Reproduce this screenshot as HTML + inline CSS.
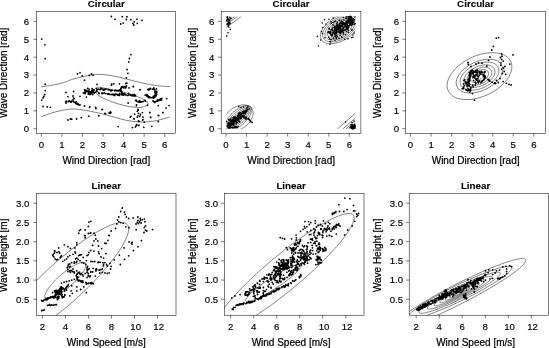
<!DOCTYPE html>
<html><head><meta charset="utf-8"><title>Circular and linear contour plots</title>
<style>
html,body{margin:0;padding:0;background:#fff;}
svg{display:block;}
</style></head><body>
<svg width="549" height="348" viewBox="0 0 549 348">
<rect width="549" height="348" fill="#fff"/>
<clipPath id="c0"><rect x="36.7" y="11.6" width="139.00" height="121.90"/></clipPath>
<g clip-path="url(#c0)" fill="none" stroke="#000" stroke-width="0.5">
<path d="M41.1,86.9 C43.4,86.5 51.1,85.4 55.1,84.6 C59.1,83.8 62.1,83.0 65.3,82.0 C68.5,81.0 70.7,79.7 74.3,78.7 C77.9,77.7 83.6,76.6 87.0,75.9 C90.4,75.2 91.5,74.6 94.7,74.4 C97.9,74.2 102.0,74.5 106.0,74.9 C110.0,75.3 114.5,76.1 118.8,77.0 C123.0,77.9 127.2,79.3 131.5,80.4 C135.8,81.5 140.1,82.5 144.3,83.4 C148.6,84.3 152.7,85.2 157.0,85.7 C161.3,86.2 168.2,86.5 170.4,86.7"/>
<path d="M41.1,116.7 C43.4,115.9 50.4,113.2 55.1,112.0 C59.8,110.8 65.2,109.6 69.2,109.2 C73.2,108.8 75.6,109.0 79.4,109.4 C83.2,109.8 87.7,110.7 92.1,111.6 C96.5,112.5 100.5,113.5 106.0,114.9 C111.5,116.3 119.6,118.8 125.2,120.0 C130.8,121.2 134.8,121.7 139.7,121.9 C144.5,122.1 149.3,121.8 154.3,121.0 C159.3,120.2 167.1,117.8 169.6,117.1"/>
<path d="M96.2,90.5 C96.3,89.4 96.0,87.7 97.5,87.3 C99.0,86.9 101.6,87.7 105.0,88.3 C108.4,88.9 114.2,90.0 118.0,90.9 C121.8,91.8 124.8,92.5 128.0,93.5 C131.2,94.5 134.4,95.6 137.0,96.6 C139.6,97.5 141.8,98.3 143.5,99.2 C145.2,100.1 146.5,100.8 147.2,101.7 C147.9,102.6 148.3,103.6 147.7,104.4 C147.1,105.2 145.2,106.3 143.4,106.8 C141.6,107.3 140.2,107.6 137.0,107.4 C133.8,107.2 128.6,106.5 124.3,105.5 C120.0,104.5 115.3,103.1 111.5,101.7 C107.7,100.3 103.7,98.5 101.3,97.2 C98.9,95.9 97.8,95.1 97.0,94.0 C96.2,92.9 96.1,91.6 96.2,90.5Z"/>
</g>
<g clip-path="url(#c0)" fill="none" stroke="#000" stroke-linecap="round" stroke-width="1.8">
<path d="M111.4,16.5h0M114.9,19.3h0M122.3,16.7h0M127.0,16.7h0M126.4,19.5h0M130.9,19.7h0M137.0,19.3h0M142.0,20.3h0M123.2,23.1h0M120.7,24.0h0M134.3,21.8h0M132.8,23.4h0M137.3,23.4h0M133.8,25.0h0M41.7,39.1h0M44.9,44.8h0M45.2,58.7h0M45.2,84.2h0M45.2,90.6h0M44.7,94.5h0M43.9,96.4h0M43.0,97.9h0M41.7,100.1h0M43.0,106.5h0M47.2,106.9h0M50.3,107.3h0M130.9,54.6h0M129.3,58.5h0M128.7,61.9h0M127.0,69.5h0M127.9,73.3h0M126.4,77.8h0M125.8,83.4h0M77.5,73.9h0M80.0,72.7h0M82.2,75.9h0M84.5,80.2h0M89.3,75.5h0M91.5,74.0h0M93.1,75.3h0M97.0,84.4h0M66.0,92.4h0M73.6,91.5h0M67.9,96.7h0M73.0,96.0h0M73.6,97.9h0M80.0,96.3h0M86.4,97.1h0M111.7,84.2h0M113.7,83.8h0M119.4,83.8h0M133.4,86.7h0M129.0,87.9h0M139.8,89.8h0M156.4,88.9h0M66.6,101.1h0M69.2,100.9h0M71.7,101.1h0M73.6,101.8h0M75.5,103.0h0M78.1,103.9h0M80.0,105.0h0M66.0,103.0h0M73.0,99.9h0M74.3,98.6h0M84.5,106.0h0M89.6,107.3h0M96.0,108.5h0M102.3,109.4h0M104.9,113.3h0M67.9,120.0h0M70.4,119.0h0M71.7,119.2h0M76.6,119.0h0M81.3,117.7h0M88.9,116.2h0M98.8,115.8h0M126.4,85.8h0M111.5,85.1h0M126.8,83.2h0M133.2,86.4h0M140.2,89.6h0M128.1,103.0h0M136.4,105.5h0M89.8,106.8h0M95.6,107.4h0M101.9,109.6h0M138.3,110.0h0M158.3,105.6h0M169.1,105.6h0M166.0,108.1h0M162.8,112.6h0M150.0,112.4h0M158.3,115.4h0M150.6,117.1h0M158.3,121.5h0M147.5,105.2h0M136.6,105.0h0M137.9,109.4h0M137.3,111.3h0M138.5,113.3h0M137.9,115.8h0M139.8,116.4h0M137.3,117.1h0M142.4,112.6h0M140.4,114.5h0M143.0,117.1h0M143.0,119.6h0M138.5,120.9h0M144.3,122.2h0M134.1,119.0h0M130.9,116.4h0M136.6,124.7h0M138.5,125.4h0M98.9,115.6h0M105.5,113.7h0M134.6,114.2h0M130.3,117.1h0M133.9,118.6h0M142.6,120.0h0M139.0,121.5h0M150.7,117.5h0M158.7,115.6h0M163.0,112.7h0M149.9,112.7h0M118.2,126.6h0M132.4,127.6h0M136.1,125.8h0M139.0,125.1h0M135.4,126.9h0M143.8,127.3h0M151.8,126.3h0M166.6,98.6h0M68.6,101.5h0M76.1,101.8h0M66.5,102.0h0M77.7,104.2h0M78.5,104.4h0M74.6,102.3h0M76.5,103.9h0M71.1,102.2h0M65.6,101.6h0M78.3,104.8h0M73.4,101.7h0M77.2,103.4h0M66.8,101.8h0M70.3,101.5h0M90.9,93.7h0M85.1,93.6h0M89.2,89.5h0M89.4,91.6h0M93.4,89.8h0M90.7,91.7h0M84.6,89.6h0M91.9,92.6h0M93.5,92.4h0M91.3,91.7h0M93.9,90.2h0M89.5,92.1h0M85.0,93.6h0M87.5,91.4h0M96.9,90.2h0M88.3,94.0h0M86.5,90.8h0M91.7,92.2h0M91.9,92.1h0M94.3,93.1h0M91.9,90.4h0M87.7,88.4h0M92.2,88.6h0M92.8,94.5h0M86.6,90.4h0M88.5,92.8h0M87.2,91.3h0M88.3,91.1h0M94.1,90.0h0M90.2,91.9h0M92.7,89.5h0M93.6,92.2h0M92.8,91.6h0M84.8,90.5h0M92.6,91.6h0M89.8,94.4h0M97.0,91.4h0M96.2,88.3h0M83.4,92.9h0M89.2,92.4h0M91.7,91.4h0M92.2,91.7h0M85.1,91.9h0M90.6,94.4h0M86.4,91.5h0M88.6,91.3h0M95.3,92.1h0M88.5,91.7h0M92.5,89.9h0M89.2,94.0h0M92.7,91.4h0M88.5,91.3h0M85.0,93.0h0M91.1,91.7h0M85.8,90.4h0M98.1,89.1h0M118.1,90.9h0M100.7,89.5h0M103.3,90.0h0M114.4,90.8h0M103.8,89.4h0M99.1,89.4h0M110.9,90.9h0M118.6,90.7h0M104.9,89.5h0M115.8,90.2h0M117.6,90.7h0M111.8,90.1h0M102.0,88.7h0M108.2,89.5h0M112.2,90.3h0M106.0,88.9h0M97.2,89.6h0M119.3,90.0h0M109.9,90.0h0M104.0,90.1h0M104.3,89.2h0M116.2,90.6h0M115.0,90.4h0M108.9,89.8h0M100.8,88.5h0M116.6,94.1h0M108.8,94.2h0M114.7,95.6h0M105.9,93.6h0M119.6,94.3h0M112.6,94.5h0M104.3,92.6h0M117.6,95.0h0M99.1,93.5h0M102.0,93.6h0M109.7,94.3h0M108.2,93.6h0M98.8,92.9h0M118.7,95.2h0M114.1,95.2h0M113.2,94.3h0M107.7,94.1h0M112.5,94.4h0M104.3,92.9h0M115.4,94.2h0M102.7,93.4h0M111.2,94.5h0M119.5,93.5h0M119.5,95.4h0M115.1,94.2h0M102.0,93.0h0M120.8,90.7h0M121.6,93.5h0M122.5,94.7h0M120.8,89.1h0M121.5,93.1h0M121.3,87.3h0M121.6,87.4h0M121.3,88.6h0M120.6,90.0h0M122.2,93.2h0M122.6,93.9h0M122.7,94.5h0M121.8,92.0h0M122.0,86.6h0M120.3,90.0h0M120.9,88.7h0M123.1,93.5h0M120.6,90.5h0M121.3,90.6h0M121.1,91.5h0M124.1,86.6h0M125.7,87.4h0M125.9,87.6h0M122.9,87.1h0M126.0,86.6h0M123.7,87.8h0M125.5,87.9h0M131.4,95.4h0M128.2,95.1h0M121.5,94.7h0M125.0,94.2h0M129.9,94.8h0M123.4,95.2h0M128.1,95.1h0M131.5,95.7h0M134.1,95.8h0M122.5,94.1h0M126.1,94.9h0M125.6,94.7h0M124.6,93.9h0M132.2,95.6h0M134.2,95.4h0M125.3,94.8h0M123.8,94.5h0M133.6,95.7h0M122.7,94.9h0M130.6,95.2h0M122.9,94.8h0M132.6,94.9h0M127.8,95.4h0M128.6,93.3h0M135.5,95.3h0M134.3,94.5h0M133.3,95.8h0M134.1,95.7h0M135.4,95.8h0M132.6,94.8h0M136.3,100.5h0M145.0,100.3h0M135.6,100.3h0M145.4,101.1h0M139.8,102.0h0M138.1,101.9h0M138.4,101.4h0M139.3,102.0h0M139.8,100.8h0M143.4,101.4h0M136.1,100.5h0M142.1,101.7h0M140.9,102.0h0M136.4,101.0h0M152.6,89.1h0M146.8,95.5h0M154.7,96.7h0M153.1,96.8h0M149.9,97.5h0M155.6,94.0h0M154.5,89.7h0M155.2,91.2h0M153.1,97.2h0M155.9,91.3h0M154.8,92.3h0M149.0,89.1h0M147.5,95.6h0M149.0,89.9h0M153.8,87.9h0M149.5,97.0h0M147.9,89.5h0M147.8,96.1h0M153.2,96.4h0M153.7,96.8h0M153.6,89.3h0M156.3,93.2h0M153.7,89.4h0M153.1,89.1h0M151.5,97.7h0M148.9,97.7h0M150.4,88.5h0M156.4,95.0h0M146.9,94.6h0M150.5,88.9h0M156.1,92.9h0M155.9,95.5h0M154.6,95.5h0M155.3,96.0h0M156.5,94.4h0M156.7,91.5h0M155.7,96.5h0M155.3,93.9h0M153.4,98.2h0M156.7,92.8h0M155.6,96.2h0M154.5,97.4h0M155.4,95.7h0M154.4,96.3h0M155.3,95.5h0M155.8,92.4h0M148.2,96.4h0M147.3,96.5h0M146.6,95.7h0M149.8,97.1h0M145.3,95.2h0M146.3,94.8h0M147.8,95.7h0M148.7,97.4h0M148.6,97.6h0M161.2,99.4h0M160.8,100.2h0M160.3,100.1h0M159.1,100.4h0M161.9,98.5h0M161.6,99.4h0M157.3,101.2h0M158.7,100.4h0M154.8,102.4h0M161.0,99.5h0M157.6,100.0h0M155.6,101.6h0M153.9,101.7h0M157.1,100.5h0M153.0,100.9h0M161.1,100.1h0M160.1,99.2h0M161.0,99.0h0M109.1,113.0h0M110.4,113.2h0M110.2,113.0h0M110.0,113.3h0M109.7,113.2h0M110.2,113.0h0M110.9,112.6h0M110.4,111.8h0"/>
</g>
<g fill="none" stroke="#000" stroke-width="0.52">
<rect x="36.7" y="11.6" width="139.00" height="121.90"/>
<path d="M41.40,133.5v3.3M61.95,133.5v3.3M82.50,133.5v3.3M103.05,133.5v3.3M123.60,133.5v3.3M144.15,133.5v3.3M164.70,133.5v3.3M36.7,128.75h-3.4M36.7,110.85h-3.4M36.7,92.95h-3.4M36.7,75.05h-3.4M36.7,57.15h-3.4M36.7,39.25h-3.4M36.7,21.35h-3.4"/>
</g>
<g font-family='"Liberation Sans", Arial, Helvetica, sans-serif' font-size="10px" fill="#000" stroke="#000" stroke-width="0.22">
<text x="41.40" y="147.9" text-anchor="middle" font-size="9.6px" stroke-width="0.16">0</text>
<text x="61.95" y="147.9" text-anchor="middle" font-size="9.6px" stroke-width="0.16">1</text>
<text x="82.50" y="147.9" text-anchor="middle" font-size="9.6px" stroke-width="0.16">2</text>
<text x="103.05" y="147.9" text-anchor="middle" font-size="9.6px" stroke-width="0.16">3</text>
<text x="123.60" y="147.9" text-anchor="middle" font-size="9.6px" stroke-width="0.16">4</text>
<text x="144.15" y="147.9" text-anchor="middle" font-size="9.6px" stroke-width="0.16">5</text>
<text x="164.70" y="147.9" text-anchor="middle" font-size="9.6px" stroke-width="0.16">6</text>
<text x="29.2" y="132.15" text-anchor="end" font-size="9.6px" stroke-width="0.16">0</text>
<text x="29.2" y="114.25" text-anchor="end" font-size="9.6px" stroke-width="0.16">1</text>
<text x="29.2" y="96.35" text-anchor="end" font-size="9.6px" stroke-width="0.16">2</text>
<text x="29.2" y="78.45" text-anchor="end" font-size="9.6px" stroke-width="0.16">3</text>
<text x="29.2" y="60.55" text-anchor="end" font-size="9.6px" stroke-width="0.16">4</text>
<text x="29.2" y="42.65" text-anchor="end" font-size="9.6px" stroke-width="0.16">5</text>
<text x="29.2" y="24.75" text-anchor="end" font-size="9.6px" stroke-width="0.16">6</text>
<text x="106.3" y="163.8" text-anchor="middle">Wind Direction [rad]</text>
<text transform="translate(6.9,72.8) rotate(-90)" text-anchor="middle">Wave Direction [rad]</text>
<text x="106.3" y="6.8" text-anchor="middle" font-weight="bold" font-size="9.8px" stroke-width="0.1">Circular</text>
</g>
<clipPath id="c1"><rect x="221.2" y="11.5" width="139.70" height="121.80"/></clipPath>
<clipPath id="d1"><rect x="226.3" y="16.4" width="129.10" height="112.60"/></clipPath>
<g clip-path="url(#d1)" fill="none" stroke="#000" stroke-width="0.5">
<path d="M358.2,17.5 L358.5,18.1 L358.8,18.7 L359.0,19.3 L359.1,19.9 L359.2,20.6 L359.2,21.2 L359.2,21.9 L359.1,22.7 L359.0,23.4 L358.9,24.2 L358.6,24.9 L358.3,25.7 L358.0,26.5 L357.6,27.3 L357.2,28.0 L356.7,28.8 L356.2,29.6 L355.6,30.4 L355.0,31.2 L354.4,32.0 L353.7,32.7 L352.9,33.5 L352.2,34.2 L351.4,35.0 L350.5,35.7 L349.7,36.4 L348.8,37.0 L347.9,37.7 L346.9,38.3 L346.0,38.9 L345.0,39.5 L344.0,40.0 L343.0,40.5 L342.0,41.0 L341.0,41.4 L340.0,41.8 L339.0,42.2 L338.0,42.5 L336.9,42.8 L335.9,43.0 L334.9,43.3 L334.0,43.4 L333.0,43.6 L332.1,43.7 L331.1,43.7 L330.2,43.7 L329.4,43.7 L328.5,43.6 L327.7,43.5 L326.9,43.3 L326.2,43.1 L325.5,42.9 L324.8,42.6 L324.2,42.3 L323.6,42.0 L323.1,41.6 L322.6,41.1 L322.1,40.7 L321.7,40.2 L321.4,39.7 L321.1,39.1 L320.8,38.5 L320.6,37.9 L320.5,37.3 L320.4,36.6 L320.4,36.0 L320.4,35.3 L320.5,34.5 L320.6,33.8 L320.7,33.0 L321.0,32.3 L321.3,31.5 L321.6,30.7 L322.0,29.9 L322.4,29.2 L322.9,28.4 L323.4,27.6 L324.0,26.8 L324.6,26.0 L325.2,25.2 L325.9,24.5 L326.7,23.7 L327.4,23.0 L328.2,22.2 L329.1,21.5 L329.9,20.8 L330.8,20.2 L331.7,19.5 L332.7,18.9 L333.6,18.3 L334.6,17.7 L335.6,17.2 L336.6,16.7 L337.6,16.2 L338.6,15.8 L339.6,15.4 L340.6,15.0 L341.6,14.7 L342.7,14.4 L343.7,14.2 L344.7,13.9 L345.6,13.8 L346.6,13.6 L347.5,13.5 L348.5,13.5 L349.4,13.5 L350.2,13.5 L351.1,13.6 L351.9,13.7 L352.7,13.9 L353.4,14.1 L354.1,14.3 L354.8,14.6 L355.4,14.9 L356.0,15.2 L356.5,15.6 L357.0,16.1 L357.5,16.5 L357.9,17.0Z"/>
<path d="M356.0,18.9 L356.3,19.3 L356.5,19.9 L356.7,20.4 L356.8,21.0 L356.9,21.5 L356.9,22.1 L356.9,22.7 L356.8,23.4 L356.7,24.0 L356.6,24.7 L356.4,25.4 L356.1,26.0 L355.8,26.7 L355.5,27.4 L355.1,28.1 L354.7,28.8 L354.2,29.5 L353.7,30.2 L353.2,30.9 L352.6,31.6 L352.0,32.2 L351.4,32.9 L350.7,33.6 L350.0,34.2 L349.3,34.8 L348.5,35.4 L347.7,36.0 L346.9,36.6 L346.1,37.1 L345.2,37.7 L344.4,38.1 L343.5,38.6 L342.6,39.1 L341.7,39.5 L340.9,39.9 L340.0,40.2 L339.1,40.5 L338.2,40.8 L337.3,41.1 L336.4,41.3 L335.5,41.5 L334.7,41.7 L333.8,41.8 L333.0,41.8 L332.2,41.9 L331.4,41.9 L330.6,41.9 L329.9,41.8 L329.2,41.7 L328.5,41.6 L327.8,41.4 L327.2,41.2 L326.6,40.9 L326.1,40.7 L325.5,40.4 L325.1,40.0 L324.6,39.6 L324.2,39.2 L323.9,38.8 L323.6,38.3 L323.3,37.9 L323.1,37.3 L322.9,36.8 L322.8,36.2 L322.7,35.7 L322.7,35.1 L322.7,34.5 L322.8,33.8 L322.9,33.2 L323.0,32.5 L323.2,31.8 L323.5,31.2 L323.8,30.5 L324.1,29.8 L324.5,29.1 L324.9,28.4 L325.4,27.7 L325.9,27.0 L326.4,26.3 L327.0,25.6 L327.6,25.0 L328.2,24.3 L328.9,23.6 L329.6,23.0 L330.3,22.4 L331.1,21.8 L331.9,21.2 L332.7,20.6 L333.5,20.1 L334.4,19.5 L335.2,19.1 L336.1,18.6 L337.0,18.1 L337.9,17.7 L338.7,17.3 L339.6,17.0 L340.5,16.7 L341.4,16.4 L342.3,16.1 L343.2,15.9 L344.1,15.7 L344.9,15.5 L345.8,15.4 L346.6,15.4 L347.4,15.3 L348.2,15.3 L349.0,15.3 L349.7,15.4 L350.4,15.5 L351.1,15.6 L351.8,15.8 L352.4,16.0 L353.0,16.3 L353.5,16.5 L354.1,16.8 L354.5,17.2 L355.0,17.6 L355.4,18.0 L355.7,18.4Z"/>
<path d="M353.8,20.2 L354.0,20.6 L354.2,21.0 L354.4,21.5 L354.5,22.0 L354.5,22.5 L354.6,23.0 L354.6,23.5 L354.5,24.1 L354.4,24.7 L354.3,25.2 L354.1,25.8 L353.9,26.4 L353.6,27.0 L353.4,27.6 L353.0,28.2 L352.7,28.8 L352.3,29.4 L351.8,30.0 L351.4,30.6 L350.9,31.2 L350.3,31.7 L349.8,32.3 L349.2,32.9 L348.6,33.4 L348.0,34.0 L347.3,34.5 L346.6,35.0 L345.9,35.5 L345.2,36.0 L344.5,36.4 L343.8,36.8 L343.0,37.3 L342.2,37.6 L341.5,38.0 L340.7,38.3 L339.9,38.6 L339.2,38.9 L338.4,39.2 L337.6,39.4 L336.9,39.6 L336.1,39.7 L335.4,39.9 L334.6,40.0 L333.9,40.0 L333.2,40.1 L332.5,40.1 L331.9,40.1 L331.2,40.0 L330.6,39.9 L330.0,39.8 L329.5,39.6 L328.9,39.5 L328.4,39.3 L327.9,39.0 L327.5,38.8 L327.1,38.5 L326.7,38.1 L326.4,37.8 L326.1,37.4 L325.8,37.0 L325.6,36.6 L325.4,36.2 L325.2,35.7 L325.1,35.2 L325.1,34.7 L325.0,34.2 L325.0,33.7 L325.1,33.1 L325.2,32.5 L325.3,32.0 L325.5,31.4 L325.7,30.8 L326.0,30.2 L326.2,29.6 L326.6,29.0 L326.9,28.4 L327.3,27.8 L327.8,27.2 L328.2,26.6 L328.7,26.0 L329.3,25.5 L329.8,24.9 L330.4,24.3 L331.0,23.8 L331.6,23.2 L332.3,22.7 L333.0,22.2 L333.7,21.7 L334.4,21.2 L335.1,20.8 L335.8,20.4 L336.6,19.9 L337.4,19.6 L338.1,19.2 L338.9,18.9 L339.7,18.6 L340.4,18.3 L341.2,18.0 L342.0,17.8 L342.7,17.6 L343.5,17.5 L344.2,17.3 L345.0,17.2 L345.7,17.2 L346.4,17.1 L347.1,17.1 L347.7,17.1 L348.4,17.2 L349.0,17.3 L349.6,17.4 L350.1,17.6 L350.7,17.7 L351.2,17.9 L351.7,18.2 L352.1,18.4 L352.5,18.7 L352.9,19.1 L353.2,19.4 L353.5,19.8Z"/>
<path d="M351.6,21.5 L351.8,21.9 L351.9,22.2 L352.1,22.6 L352.2,23.0 L352.2,23.5 L352.2,23.9 L352.2,24.3 L352.2,24.8 L352.1,25.3 L352.0,25.8 L351.8,26.2 L351.7,26.7 L351.5,27.2 L351.2,27.7 L350.9,28.2 L350.6,28.8 L350.3,29.3 L349.9,29.8 L349.5,30.3 L349.1,30.8 L348.7,31.2 L348.2,31.7 L347.7,32.2 L347.2,32.7 L346.7,33.1 L346.1,33.6 L345.6,34.0 L345.0,34.4 L344.4,34.8 L343.8,35.2 L343.1,35.5 L342.5,35.9 L341.9,36.2 L341.2,36.5 L340.6,36.8 L339.9,37.1 L339.3,37.3 L338.6,37.5 L338.0,37.7 L337.3,37.8 L336.7,38.0 L336.1,38.1 L335.5,38.2 L334.8,38.2 L334.3,38.3 L333.7,38.3 L333.1,38.3 L332.6,38.2 L332.1,38.1 L331.6,38.0 L331.1,37.9 L330.6,37.8 L330.2,37.6 L329.8,37.4 L329.4,37.1 L329.1,36.9 L328.8,36.6 L328.5,36.3 L328.2,36.0 L328.0,35.7 L327.8,35.3 L327.7,35.0 L327.5,34.6 L327.4,34.2 L327.4,33.7 L327.4,33.3 L327.4,32.9 L327.4,32.4 L327.5,31.9 L327.6,31.4 L327.8,31.0 L327.9,30.5 L328.1,30.0 L328.4,29.5 L328.7,29.0 L329.0,28.4 L329.3,27.9 L329.7,27.4 L330.1,26.9 L330.5,26.4 L330.9,26.0 L331.4,25.5 L331.9,25.0 L332.4,24.5 L332.9,24.1 L333.5,23.6 L334.0,23.2 L334.6,22.8 L335.2,22.4 L335.8,22.0 L336.5,21.7 L337.1,21.3 L337.7,21.0 L338.4,20.7 L339.0,20.4 L339.7,20.1 L340.3,19.9 L341.0,19.7 L341.6,19.5 L342.3,19.4 L342.9,19.2 L343.5,19.1 L344.1,19.0 L344.8,19.0 L345.3,18.9 L345.9,18.9 L346.5,18.9 L347.0,19.0 L347.5,19.1 L348.0,19.2 L348.5,19.3 L349.0,19.4 L349.4,19.6 L349.8,19.8 L350.2,20.1 L350.5,20.3 L350.8,20.6 L351.1,20.9 L351.4,21.2Z"/>
<path d="M349.4,22.8 L349.5,23.1 L349.7,23.4 L349.8,23.7 L349.8,24.1 L349.9,24.4 L349.9,24.8 L349.9,25.1 L349.9,25.5 L349.8,25.9 L349.7,26.3 L349.6,26.7 L349.4,27.1 L349.3,27.5 L349.1,27.9 L348.8,28.3 L348.6,28.7 L348.3,29.1 L348.0,29.5 L347.7,29.9 L347.4,30.4 L347.0,30.8 L346.6,31.1 L346.2,31.5 L345.8,31.9 L345.4,32.3 L344.9,32.6 L344.5,33.0 L344.0,33.3 L343.5,33.6 L343.0,33.9 L342.5,34.2 L342.0,34.5 L341.5,34.8 L341.0,35.0 L340.4,35.3 L339.9,35.5 L339.4,35.7 L338.8,35.8 L338.3,36.0 L337.8,36.1 L337.3,36.2 L336.8,36.3 L336.3,36.4 L335.8,36.4 L335.3,36.5 L334.8,36.5 L334.4,36.4 L333.9,36.4 L333.5,36.3 L333.1,36.3 L332.7,36.2 L332.4,36.0 L332.0,35.9 L331.7,35.7 L331.4,35.5 L331.1,35.3 L330.8,35.1 L330.6,34.9 L330.4,34.6 L330.2,34.4 L330.1,34.1 L329.9,33.8 L329.8,33.5 L329.8,33.1 L329.7,32.8 L329.7,32.4 L329.7,32.1 L329.7,31.7 L329.8,31.3 L329.9,30.9 L330.0,30.5 L330.2,30.1 L330.3,29.7 L330.5,29.3 L330.8,28.9 L331.0,28.5 L331.3,28.1 L331.6,27.7 L331.9,27.3 L332.2,26.8 L332.6,26.4 L333.0,26.1 L333.4,25.7 L333.8,25.3 L334.2,24.9 L334.7,24.6 L335.1,24.2 L335.6,23.9 L336.1,23.6 L336.6,23.3 L337.1,23.0 L337.6,22.7 L338.1,22.4 L338.6,22.2 L339.2,21.9 L339.7,21.7 L340.2,21.5 L340.8,21.4 L341.3,21.2 L341.8,21.1 L342.3,21.0 L342.8,20.9 L343.3,20.8 L343.8,20.8 L344.3,20.7 L344.8,20.7 L345.2,20.8 L345.7,20.8 L346.1,20.9 L346.5,20.9 L346.9,21.0 L347.2,21.2 L347.6,21.3 L347.9,21.5 L348.2,21.7 L348.5,21.9 L348.8,22.1 L349.0,22.3 L349.2,22.6Z"/>
<path d="M347.2,24.2 L347.3,24.4 L347.4,24.6 L347.5,24.9 L347.5,25.1 L347.6,25.4 L347.6,25.7 L347.6,25.9 L347.5,26.2 L347.5,26.5 L347.4,26.8 L347.3,27.1 L347.2,27.4 L347.1,27.7 L346.9,28.1 L346.8,28.4 L346.6,28.7 L346.4,29.0 L346.1,29.3 L345.9,29.6 L345.6,29.9 L345.3,30.3 L345.1,30.6 L344.7,30.9 L344.4,31.1 L344.1,31.4 L343.8,31.7 L343.4,32.0 L343.0,32.2 L342.7,32.5 L342.3,32.7 L341.9,32.9 L341.5,33.2 L341.1,33.4 L340.7,33.5 L340.3,33.7 L339.9,33.9 L339.5,34.0 L339.1,34.2 L338.7,34.3 L338.3,34.4 L337.9,34.5 L337.5,34.5 L337.1,34.6 L336.7,34.6 L336.3,34.6 L336.0,34.6 L335.6,34.6 L335.3,34.6 L335.0,34.6 L334.7,34.5 L334.4,34.4 L334.1,34.3 L333.8,34.2 L333.6,34.1 L333.3,33.9 L333.1,33.8 L332.9,33.6 L332.7,33.4 L332.6,33.2 L332.4,33.0 L332.3,32.8 L332.2,32.6 L332.1,32.3 L332.1,32.1 L332.0,31.8 L332.0,31.5 L332.0,31.3 L332.1,31.0 L332.1,30.7 L332.2,30.4 L332.3,30.1 L332.4,29.8 L332.5,29.5 L332.7,29.1 L332.8,28.8 L333.0,28.5 L333.2,28.2 L333.5,27.9 L333.7,27.6 L334.0,27.3 L334.3,26.9 L334.5,26.6 L334.9,26.3 L335.2,26.1 L335.5,25.8 L335.8,25.5 L336.2,25.2 L336.6,25.0 L336.9,24.7 L337.3,24.5 L337.7,24.3 L338.1,24.0 L338.5,23.8 L338.9,23.7 L339.3,23.5 L339.7,23.3 L340.1,23.2 L340.5,23.0 L340.9,22.9 L341.3,22.8 L341.7,22.7 L342.1,22.7 L342.5,22.6 L342.9,22.6 L343.3,22.6 L343.6,22.6 L344.0,22.6 L344.3,22.6 L344.6,22.6 L344.9,22.7 L345.2,22.8 L345.5,22.9 L345.8,23.0 L346.0,23.1 L346.3,23.3 L346.5,23.4 L346.7,23.6 L346.9,23.8 L347.0,24.0Z"/>
<path d="M345.0,25.5 L345.0,25.7 L345.1,25.8 L345.2,26.0 L345.2,26.2 L345.2,26.4 L345.2,26.5 L345.2,26.7 L345.2,26.9 L345.2,27.1 L345.1,27.4 L345.1,27.6 L345.0,27.8 L344.9,28.0 L344.8,28.2 L344.7,28.4 L344.5,28.7 L344.4,28.9 L344.2,29.1 L344.1,29.3 L343.9,29.5 L343.7,29.8 L343.5,30.0 L343.3,30.2 L343.0,30.4 L342.8,30.6 L342.6,30.8 L342.3,31.0 L342.1,31.1 L341.8,31.3 L341.5,31.5 L341.3,31.6 L341.0,31.8 L340.7,31.9 L340.4,32.1 L340.1,32.2 L339.9,32.3 L339.6,32.4 L339.3,32.5 L339.0,32.6 L338.7,32.6 L338.4,32.7 L338.2,32.8 L337.9,32.8 L337.6,32.8 L337.4,32.8 L337.1,32.8 L336.9,32.8 L336.6,32.8 L336.4,32.8 L336.2,32.7 L336.0,32.7 L335.8,32.6 L335.6,32.5 L335.4,32.4 L335.3,32.3 L335.1,32.2 L335.0,32.1 L334.8,32.0 L334.7,31.8 L334.6,31.7 L334.6,31.5 L334.5,31.4 L334.4,31.2 L334.4,31.0 L334.4,30.8 L334.4,30.7 L334.4,30.5 L334.4,30.3 L334.4,30.1 L334.5,29.8 L334.5,29.6 L334.6,29.4 L334.7,29.2 L334.8,29.0 L334.9,28.8 L335.1,28.5 L335.2,28.3 L335.4,28.1 L335.5,27.9 L335.7,27.7 L335.9,27.4 L336.1,27.2 L336.3,27.0 L336.6,26.8 L336.8,26.6 L337.0,26.4 L337.3,26.2 L337.5,26.1 L337.8,25.9 L338.1,25.7 L338.3,25.6 L338.6,25.4 L338.9,25.3 L339.2,25.1 L339.5,25.0 L339.7,24.9 L340.0,24.8 L340.3,24.7 L340.6,24.6 L340.9,24.6 L341.2,24.5 L341.4,24.4 L341.7,24.4 L342.0,24.4 L342.2,24.4 L342.5,24.4 L342.7,24.4 L343.0,24.4 L343.2,24.4 L343.4,24.5 L343.6,24.5 L343.8,24.6 L344.0,24.7 L344.2,24.8 L344.3,24.9 L344.5,25.0 L344.6,25.1 L344.8,25.2 L344.9,25.4Z"/>
<path d="M342.9,26.7 L343.0,26.8 L343.0,26.9 L343.1,27.0 L343.1,27.1 L343.1,27.2 L343.1,27.4 L343.1,27.5 L343.1,27.6 L343.1,27.7 L343.0,27.8 L343.0,28.0 L343.0,28.1 L342.9,28.2 L342.8,28.4 L342.8,28.5 L342.7,28.6 L342.6,28.8 L342.5,28.9 L342.4,29.0 L342.3,29.2 L342.2,29.3 L342.0,29.4 L341.9,29.6 L341.8,29.7 L341.6,29.8 L341.5,29.9 L341.3,30.0 L341.2,30.1 L341.0,30.2 L340.9,30.3 L340.7,30.4 L340.5,30.5 L340.3,30.6 L340.2,30.7 L340.0,30.8 L339.8,30.8 L339.7,30.9 L339.5,31.0 L339.3,31.0 L339.1,31.1 L339.0,31.1 L338.8,31.1 L338.6,31.1 L338.5,31.2 L338.3,31.2 L338.2,31.2 L338.0,31.2 L337.9,31.2 L337.7,31.1 L337.6,31.1 L337.5,31.1 L337.4,31.0 L337.3,31.0 L337.1,30.9 L337.0,30.9 L337.0,30.8 L336.9,30.7 L336.8,30.7 L336.7,30.6 L336.7,30.5 L336.6,30.4 L336.6,30.3 L336.5,30.2 L336.5,30.1 L336.5,30.0 L336.5,29.8 L336.5,29.7 L336.5,29.6 L336.5,29.5 L336.6,29.4 L336.6,29.2 L336.6,29.1 L336.7,29.0 L336.8,28.8 L336.8,28.7 L336.9,28.6 L337.0,28.4 L337.1,28.3 L337.2,28.2 L337.3,28.0 L337.4,27.9 L337.6,27.8 L337.7,27.6 L337.8,27.5 L338.0,27.4 L338.1,27.3 L338.3,27.2 L338.4,27.1 L338.6,27.0 L338.7,26.9 L338.9,26.8 L339.1,26.7 L339.3,26.6 L339.4,26.5 L339.6,26.4 L339.8,26.4 L339.9,26.3 L340.1,26.2 L340.3,26.2 L340.5,26.1 L340.6,26.1 L340.8,26.1 L341.0,26.1 L341.1,26.0 L341.3,26.0 L341.4,26.0 L341.6,26.0 L341.7,26.0 L341.9,26.1 L342.0,26.1 L342.1,26.1 L342.2,26.2 L342.3,26.2 L342.5,26.3 L342.6,26.3 L342.6,26.4 L342.7,26.5 L342.8,26.5 L342.9,26.6Z"/>
<path d="M251.7,108.5 L252.0,109.0 L252.3,109.5 L252.5,110.1 L252.7,110.6 L252.9,111.2 L253.0,111.8 L253.1,112.4 L253.1,113.0 L253.1,113.7 L253.1,114.3 L253.0,115.0 L252.8,115.6 L252.7,116.3 L252.5,117.0 L252.2,117.7 L251.9,118.4 L251.6,119.0 L251.2,119.7 L250.9,120.4 L250.4,121.1 L250.0,121.7 L249.5,122.4 L248.9,123.0 L248.4,123.6 L247.8,124.3 L247.2,124.8 L246.5,125.4 L245.9,126.0 L245.2,126.5 L244.5,127.0 L243.8,127.5 L243.1,128.0 L242.3,128.4 L241.6,128.8 L240.8,129.2 L240.0,129.5 L239.2,129.8 L238.5,130.1 L237.7,130.3 L236.9,130.5 L236.1,130.7 L235.4,130.9 L234.6,131.0 L233.8,131.0 L233.1,131.1 L232.4,131.1 L231.7,131.0 L231.0,131.0 L230.3,130.8 L229.6,130.7 L229.0,130.5 L228.4,130.3 L227.8,130.1 L227.3,129.8 L226.8,129.5 L226.3,129.1 L225.8,128.8 L225.4,128.4 L225.0,127.9 L224.7,127.5 L224.4,127.0 L224.1,126.5 L223.9,125.9 L223.7,125.4 L223.5,124.8 L223.4,124.2 L223.3,123.6 L223.3,123.0 L223.3,122.3 L223.3,121.7 L223.4,121.0 L223.6,120.4 L223.7,119.7 L223.9,119.0 L224.2,118.3 L224.5,117.6 L224.8,117.0 L225.2,116.3 L225.5,115.6 L226.0,114.9 L226.4,114.3 L226.9,113.6 L227.5,113.0 L228.0,112.4 L228.6,111.7 L229.2,111.2 L229.9,110.6 L230.5,110.0 L231.2,109.5 L231.9,109.0 L232.6,108.5 L233.3,108.0 L234.1,107.6 L234.8,107.2 L235.6,106.8 L236.4,106.5 L237.2,106.2 L237.9,105.9 L238.7,105.7 L239.5,105.5 L240.3,105.3 L241.0,105.1 L241.8,105.0 L242.6,105.0 L243.3,104.9 L244.0,104.9 L244.7,105.0 L245.4,105.0 L246.1,105.2 L246.8,105.3 L247.4,105.5 L248.0,105.7 L248.6,105.9 L249.1,106.2 L249.6,106.5 L250.1,106.9 L250.6,107.2 L251.0,107.6 L251.4,108.1Z"/>
<path d="M250.7,106.8 L250.9,107.1 L251.1,107.4 L251.3,107.8 L251.5,108.2 L251.6,108.6 L251.6,109.1 L251.7,109.5 L251.7,110.0 L251.6,110.5 L251.6,111.1 L251.4,111.6 L251.3,112.2 L251.1,112.8 L250.9,113.4 L250.6,114.0 L250.3,114.7 L250.0,115.3 L249.7,116.0 L249.3,116.6 L248.8,117.3 L248.4,117.9 L247.9,118.6 L247.4,119.2 L246.9,119.9 L246.3,120.5 L245.8,121.2 L245.2,121.8 L244.6,122.4 L243.9,123.1 L243.3,123.6 L242.6,124.2 L242.0,124.8 L241.3,125.3 L240.6,125.9 L239.9,126.4 L239.2,126.8 L238.5,127.3 L237.8,127.7 L237.1,128.1 L236.4,128.5 L235.7,128.9 L235.0,129.2 L234.3,129.5 L233.6,129.7 L233.0,129.9 L232.3,130.1 L231.7,130.3 L231.1,130.4 L230.5,130.5 L229.9,130.6 L229.4,130.6 L228.9,130.6 L228.4,130.5 L227.9,130.4 L227.5,130.3 L227.0,130.2 L226.7,130.0 L226.3,129.8 L226.0,129.5 L225.7,129.2 L225.5,128.9 L225.3,128.6 L225.1,128.2 L224.9,127.8 L224.8,127.4 L224.8,126.9 L224.7,126.5 L224.7,126.0 L224.8,125.5 L224.8,124.9 L225.0,124.4 L225.1,123.8 L225.3,123.2 L225.5,122.6 L225.8,122.0 L226.1,121.3 L226.4,120.7 L226.7,120.0 L227.1,119.4 L227.6,118.7 L228.0,118.1 L228.5,117.4 L229.0,116.8 L229.5,116.1 L230.1,115.5 L230.6,114.8 L231.2,114.2 L231.8,113.6 L232.5,112.9 L233.1,112.4 L233.8,111.8 L234.4,111.2 L235.1,110.7 L235.8,110.1 L236.5,109.6 L237.2,109.2 L237.9,108.7 L238.6,108.3 L239.3,107.9 L240.0,107.5 L240.7,107.1 L241.4,106.8 L242.1,106.5 L242.8,106.3 L243.4,106.1 L244.1,105.9 L244.7,105.7 L245.3,105.6 L245.9,105.5 L246.5,105.4 L247.0,105.4 L247.5,105.4 L248.0,105.5 L248.5,105.6 L248.9,105.7 L249.4,105.8 L249.7,106.0 L250.1,106.2 L250.4,106.5Z"/>
<path d="M249.9,107.4 L250.1,107.7 L250.3,107.9 L250.4,108.2 L250.5,108.6 L250.5,108.9 L250.6,109.3 L250.6,109.7 L250.5,110.1 L250.4,110.5 L250.3,111.0 L250.2,111.5 L250.0,112.0 L249.8,112.5 L249.5,113.0 L249.2,113.6 L248.9,114.1 L248.6,114.7 L248.2,115.3 L247.8,115.9 L247.4,116.4 L247.0,117.0 L246.5,117.6 L246.0,118.2 L245.5,118.8 L245.0,119.4 L244.4,120.0 L243.9,120.6 L243.3,121.2 L242.7,121.8 L242.1,122.3 L241.5,122.9 L240.8,123.4 L240.2,123.9 L239.6,124.4 L238.9,124.9 L238.3,125.4 L237.6,125.8 L237.0,126.2 L236.3,126.6 L235.7,127.0 L235.1,127.4 L234.4,127.7 L233.8,128.0 L233.2,128.3 L232.6,128.5 L232.1,128.7 L231.5,128.9 L231.0,129.1 L230.5,129.2 L230.0,129.3 L229.5,129.4 L229.1,129.4 L228.6,129.4 L228.2,129.4 L227.9,129.3 L227.5,129.2 L227.2,129.1 L226.9,129.0 L226.7,128.8 L226.5,128.6 L226.3,128.3 L226.1,128.1 L226.0,127.8 L225.9,127.4 L225.9,127.1 L225.8,126.7 L225.8,126.3 L225.9,125.9 L226.0,125.5 L226.1,125.0 L226.2,124.5 L226.4,124.0 L226.6,123.5 L226.9,123.0 L227.2,122.4 L227.5,121.9 L227.8,121.3 L228.2,120.7 L228.6,120.1 L229.0,119.6 L229.4,119.0 L229.9,118.4 L230.4,117.8 L230.9,117.2 L231.4,116.6 L232.0,116.0 L232.5,115.4 L233.1,114.8 L233.7,114.2 L234.3,113.7 L234.9,113.1 L235.6,112.6 L236.2,112.1 L236.8,111.6 L237.5,111.1 L238.1,110.6 L238.8,110.2 L239.4,109.8 L240.1,109.4 L240.7,109.0 L241.3,108.6 L242.0,108.3 L242.6,108.0 L243.2,107.7 L243.8,107.5 L244.3,107.3 L244.9,107.1 L245.4,106.9 L245.9,106.8 L246.4,106.7 L246.9,106.6 L247.3,106.6 L247.8,106.6 L248.2,106.6 L248.5,106.7 L248.9,106.8 L249.2,106.9 L249.5,107.0 L249.7,107.2Z"/>
<path d="M248.9,108.4 L249.0,108.5 L249.1,108.7 L249.2,109.0 L249.3,109.2 L249.3,109.5 L249.2,109.8 L249.2,110.1 L249.1,110.5 L249.0,110.8 L248.9,111.2 L248.7,111.6 L248.5,112.0 L248.3,112.5 L248.0,112.9 L247.8,113.4 L247.4,113.9 L247.1,114.4 L246.8,114.9 L246.4,115.4 L246.0,115.9 L245.6,116.4 L245.1,116.9 L244.7,117.5 L244.2,118.0 L243.7,118.5 L243.2,119.0 L242.6,119.6 L242.1,120.1 L241.6,120.6 L241.0,121.1 L240.4,121.6 L239.9,122.1 L239.3,122.6 L238.7,123.1 L238.1,123.5 L237.6,123.9 L237.0,124.4 L236.4,124.8 L235.8,125.2 L235.3,125.5 L234.7,125.9 L234.2,126.2 L233.6,126.5 L233.1,126.8 L232.6,127.0 L232.1,127.2 L231.7,127.5 L231.2,127.6 L230.8,127.8 L230.3,127.9 L229.9,128.0 L229.6,128.1 L229.2,128.1 L228.9,128.1 L228.6,128.1 L228.3,128.1 L228.1,128.0 L227.9,127.9 L227.7,127.8 L227.5,127.6 L227.4,127.5 L227.3,127.3 L227.2,127.0 L227.1,126.8 L227.1,126.5 L227.2,126.2 L227.2,125.9 L227.3,125.5 L227.4,125.2 L227.5,124.8 L227.7,124.4 L227.9,124.0 L228.1,123.5 L228.4,123.1 L228.6,122.6 L229.0,122.1 L229.3,121.6 L229.6,121.1 L230.0,120.6 L230.4,120.1 L230.8,119.6 L231.3,119.1 L231.7,118.5 L232.2,118.0 L232.7,117.5 L233.2,117.0 L233.8,116.4 L234.3,115.9 L234.8,115.4 L235.4,114.9 L236.0,114.4 L236.5,113.9 L237.1,113.4 L237.7,112.9 L238.3,112.5 L238.8,112.1 L239.4,111.6 L240.0,111.2 L240.6,110.8 L241.1,110.5 L241.7,110.1 L242.2,109.8 L242.8,109.5 L243.3,109.2 L243.8,109.0 L244.3,108.8 L244.7,108.5 L245.2,108.4 L245.6,108.2 L246.1,108.1 L246.5,108.0 L246.8,107.9 L247.2,107.9 L247.5,107.9 L247.8,107.9 L248.1,107.9 L248.3,108.0 L248.5,108.1 L248.7,108.2Z"/>
<path d="M247.7,109.4 L247.8,109.6 L247.9,109.7 L247.9,109.9 L247.9,110.1 L247.9,110.3 L247.8,110.5 L247.8,110.7 L247.7,111.0 L247.5,111.3 L247.4,111.6 L247.2,112.0 L247.0,112.3 L246.8,112.7 L246.5,113.0 L246.3,113.4 L246.0,113.8 L245.6,114.2 L245.3,114.6 L245.0,115.1 L244.6,115.5 L244.2,116.0 L243.8,116.4 L243.4,116.9 L242.9,117.3 L242.5,117.8 L242.0,118.3 L241.5,118.7 L241.1,119.2 L240.6,119.6 L240.1,120.1 L239.6,120.5 L239.1,121.0 L238.6,121.4 L238.1,121.8 L237.5,122.2 L237.0,122.6 L236.5,123.0 L236.0,123.4 L235.6,123.7 L235.1,124.1 L234.6,124.4 L234.1,124.7 L233.7,125.0 L233.2,125.3 L232.8,125.5 L232.4,125.8 L232.0,126.0 L231.6,126.2 L231.2,126.3 L230.9,126.5 L230.6,126.6 L230.3,126.7 L230.0,126.7 L229.7,126.8 L229.5,126.8 L229.3,126.8 L229.1,126.8 L228.9,126.7 L228.8,126.7 L228.7,126.6 L228.6,126.4 L228.5,126.3 L228.5,126.1 L228.5,125.9 L228.5,125.7 L228.6,125.5 L228.6,125.3 L228.7,125.0 L228.9,124.7 L229.0,124.4 L229.2,124.0 L229.4,123.7 L229.6,123.3 L229.9,123.0 L230.1,122.6 L230.4,122.2 L230.8,121.8 L231.1,121.4 L231.4,120.9 L231.8,120.5 L232.2,120.0 L232.6,119.6 L233.0,119.1 L233.5,118.7 L233.9,118.2 L234.4,117.7 L234.9,117.3 L235.3,116.8 L235.8,116.4 L236.3,115.9 L236.8,115.5 L237.3,115.0 L237.8,114.6 L238.3,114.2 L238.9,113.8 L239.4,113.4 L239.9,113.0 L240.4,112.6 L240.8,112.3 L241.3,111.9 L241.8,111.6 L242.3,111.3 L242.7,111.0 L243.2,110.7 L243.6,110.5 L244.0,110.2 L244.4,110.0 L244.8,109.8 L245.2,109.7 L245.5,109.5 L245.8,109.4 L246.1,109.3 L246.4,109.3 L246.7,109.2 L246.9,109.2 L247.1,109.2 L247.3,109.2 L247.5,109.3 L247.6,109.3Z"/>
<path d="M246.2,110.8 L246.3,110.8 L246.3,110.9 L246.3,111.0 L246.3,111.2 L246.2,111.3 L246.1,111.5 L246.1,111.7 L245.9,111.9 L245.8,112.1 L245.7,112.3 L245.5,112.5 L245.3,112.8 L245.1,113.1 L244.8,113.4 L244.6,113.7 L244.3,114.0 L244.0,114.3 L243.7,114.7 L243.4,115.0 L243.1,115.4 L242.7,115.7 L242.4,116.1 L242.0,116.5 L241.6,116.8 L241.2,117.2 L240.9,117.6 L240.4,118.0 L240.0,118.4 L239.6,118.7 L239.2,119.1 L238.8,119.5 L238.4,119.9 L237.9,120.2 L237.5,120.6 L237.1,120.9 L236.7,121.3 L236.3,121.6 L235.9,122.0 L235.5,122.3 L235.1,122.6 L234.7,122.9 L234.3,123.1 L233.9,123.4 L233.6,123.7 L233.2,123.9 L232.9,124.1 L232.6,124.3 L232.3,124.5 L232.0,124.7 L231.8,124.8 L231.5,124.9 L231.3,125.1 L231.1,125.1 L230.9,125.2 L230.7,125.3 L230.6,125.3 L230.4,125.3 L230.3,125.3 L230.2,125.3 L230.2,125.2 L230.1,125.2 L230.1,125.1 L230.1,125.0 L230.1,124.8 L230.2,124.7 L230.3,124.5 L230.3,124.3 L230.5,124.1 L230.6,123.9 L230.7,123.7 L230.9,123.5 L231.1,123.2 L231.3,122.9 L231.6,122.6 L231.8,122.3 L232.1,122.0 L232.4,121.7 L232.7,121.3 L233.0,121.0 L233.3,120.6 L233.7,120.3 L234.0,119.9 L234.4,119.5 L234.8,119.2 L235.2,118.8 L235.5,118.4 L236.0,118.0 L236.4,117.6 L236.8,117.3 L237.2,116.9 L237.6,116.5 L238.0,116.1 L238.5,115.8 L238.9,115.4 L239.3,115.1 L239.7,114.7 L240.1,114.4 L240.5,114.0 L240.9,113.7 L241.3,113.4 L241.7,113.1 L242.1,112.9 L242.5,112.6 L242.8,112.3 L243.2,112.1 L243.5,111.9 L243.8,111.7 L244.1,111.5 L244.4,111.3 L244.6,111.2 L244.9,111.1 L245.1,110.9 L245.3,110.9 L245.5,110.8 L245.7,110.7 L245.8,110.7 L246.0,110.7 L246.1,110.7 L246.2,110.7Z"/>
<path d="M226.1,27.6L241.4,16.4"/>
<path d="M227.5,23.6L237.6,16.4"/>
<path d="M228.7,20.6L235.0,16.4"/>
<path d="M337.4,128.9L355.4,113.3"/>
<path d="M342.9,128.9L355.4,117.9"/>
<path d="M346,128.9L355.4,120.5"/>
<path d="M348.5,128.9L355.4,122.8"/>
<path d="M351,128.9L355.4,125"/>
</g>
<g clip-path="url(#c1)" fill="none" stroke="#000" stroke-linecap="round" stroke-width="1.6">
<path d="M228.0,21.2h0M228.2,19.6h0M229.4,20.5h0M226.9,20.0h0M227.9,18.5h0M230.4,29.4h0M230.2,23.3h0M228.1,24.4h0M228.7,19.5h0M228.6,23.6h0M227.1,17.6h0M230.0,23.6h0M226.6,20.9h0M229.9,20.3h0M227.3,16.7h0M227.1,17.3h0M228.8,22.6h0M227.5,19.4h0M230.0,18.0h0M229.5,23.9h0M227.3,19.3h0M228.2,21.8h0M227.2,23.2h0M227.7,24.1h0M227.0,24.5h0M229.7,22.2h0M227.6,17.1h0M228.5,24.0h0M228.9,27.3h0M228.0,32.7h0M226.7,35.9h0M229.8,17.2h0M231.0,18.4h0M227.2,24.6h0M228.4,25.9h0M334.4,30.5h0M337.5,36.7h0M346.1,29.1h0M334.3,32.2h0M342.7,23.2h0M343.2,22.9h0M334.3,31.3h0M352.0,21.4h0M334.7,21.5h0M330.8,34.1h0M337.0,29.1h0M343.1,23.4h0M328.7,37.2h0M341.4,23.4h0M346.5,24.1h0M341.0,30.7h0M334.8,30.8h0M335.5,28.2h0M337.1,31.9h0M336.6,25.2h0M337.8,29.2h0M348.6,26.6h0M351.0,16.5h0M346.7,27.0h0M344.4,26.8h0M345.1,25.8h0M339.7,33.0h0M335.6,31.2h0M341.6,21.2h0M332.6,30.2h0M346.3,16.7h0M322.5,33.5h0M348.5,27.7h0M335.8,32.0h0M341.2,26.7h0M342.5,23.0h0M346.1,26.9h0M349.7,20.8h0M346.6,31.5h0M334.4,33.7h0M342.9,28.5h0M351.9,21.8h0M342.7,24.2h0M338.8,32.1h0M351.5,21.6h0M342.2,29.3h0M343.6,22.8h0M345.5,34.7h0M339.3,28.4h0M341.8,30.0h0M338.8,29.4h0M348.8,25.9h0M332.3,29.1h0M345.3,24.2h0M341.7,23.9h0M334.6,28.7h0M348.5,18.5h0M351.8,17.6h0M331.0,35.3h0M337.2,31.1h0M331.0,29.9h0M343.5,28.4h0M330.0,31.8h0M344.0,30.4h0M336.4,38.6h0M337.2,22.0h0M343.5,28.8h0M336.8,29.6h0M337.6,26.8h0M337.2,29.3h0M336.2,27.9h0M334.1,31.3h0M341.7,36.9h0M336.4,33.3h0M336.9,23.6h0M328.7,31.8h0M339.5,23.7h0M329.3,29.1h0M337.9,28.9h0M345.9,29.6h0M341.9,30.5h0M348.4,32.3h0M341.2,20.7h0M343.6,28.5h0M336.4,30.1h0M341.5,29.8h0M343.4,17.6h0M347.6,21.8h0M351.6,25.2h0M355.2,23.8h0M347.4,24.9h0M335.1,29.3h0M348.1,20.0h0M342.0,31.4h0M351.8,21.3h0M348.3,25.7h0M340.2,23.5h0M340.9,26.2h0M346.2,28.9h0M340.1,35.3h0M349.9,24.7h0M347.7,23.4h0M351.9,17.8h0M349.6,22.1h0M343.7,23.1h0M346.4,27.0h0M342.8,22.0h0M339.9,30.0h0M342.7,21.9h0M341.6,25.7h0M345.7,24.0h0M337.2,22.2h0M340.7,26.2h0M335.3,33.3h0M348.6,18.9h0M330.5,32.5h0M343.3,32.5h0M337.9,28.5h0M347.2,25.0h0M333.0,25.1h0M328.9,28.2h0M333.3,38.8h0M338.4,28.3h0M344.4,27.0h0M348.9,17.2h0M336.3,26.2h0M348.2,30.2h0M351.9,29.3h0M331.3,23.2h0M339.3,20.4h0M336.6,35.5h0M346.5,28.9h0M330.5,41.9h0M351.1,19.3h0M338.0,28.0h0M335.5,36.2h0M335.8,28.3h0M339.1,25.5h0M349.9,23.9h0M338.8,28.3h0M338.4,28.0h0M338.9,28.6h0M347.8,29.6h0M342.8,26.7h0M340.8,30.4h0M338.0,25.8h0M333.8,37.7h0M332.5,35.3h0M331.2,39.6h0M346.5,29.2h0M343.2,22.8h0M338.4,26.4h0M339.5,32.8h0M352.5,22.8h0M347.2,21.3h0M331.0,21.8h0M336.1,37.5h0M340.7,26.9h0M348.0,16.9h0M340.8,32.7h0M340.1,27.7h0M340.4,29.8h0M347.6,26.9h0M332.5,30.5h0M339.4,27.3h0M334.9,34.9h0M347.9,28.4h0M345.1,30.2h0M336.9,32.8h0M344.1,30.0h0M332.9,32.8h0M329.7,39.0h0M346.1,26.5h0M329.4,38.7h0M347.9,25.4h0M355.1,17.0h0M341.1,32.5h0M332.4,34.4h0M329.4,33.5h0M342.8,25.2h0M354.4,24.2h0M329.6,32.4h0M349.2,22.4h0M338.8,24.7h0M338.8,31.0h0M337.6,26.3h0M338.0,27.8h0M338.8,25.7h0M345.1,23.2h0M340.1,30.9h0M344.0,24.6h0M333.1,22.4h0M344.1,23.3h0M340.7,33.5h0M351.7,21.1h0M337.0,25.5h0M340.3,22.5h0M344.9,24.6h0M348.7,22.6h0M343.0,31.1h0M341.1,23.7h0M331.7,35.9h0M330.7,33.4h0M345.1,23.5h0M341.7,22.3h0M330.6,31.9h0M340.6,28.4h0M337.3,24.9h0M349.1,21.9h0M346.6,22.3h0M336.5,28.5h0M343.4,33.9h0M350.1,20.3h0M335.3,21.3h0M346.0,21.8h0M347.5,26.3h0M340.1,25.6h0M352.1,23.0h0M330.5,31.8h0M342.0,26.3h0M333.1,25.1h0M332.3,28.1h0M343.4,27.4h0M342.6,30.7h0M345.4,26.1h0M341.2,23.4h0M350.8,17.8h0M345.8,18.4h0M339.3,29.5h0M351.9,30.3h0M334.3,30.4h0M343.0,23.9h0M348.3,22.2h0M346.6,21.2h0M336.9,27.1h0M342.7,30.7h0M347.7,21.0h0M332.6,32.4h0M349.0,25.8h0M351.0,21.1h0M353.1,23.9h0M349.5,21.4h0M350.5,16.4h0M349.0,19.2h0M349.2,16.5h0M351.4,17.7h0M349.6,21.0h0M353.4,20.3h0M349.9,22.4h0M351.7,21.7h0M353.1,22.2h0M346.6,25.8h0M350.8,25.3h0M350.6,22.9h0M350.3,18.7h0M349.5,20.4h0M346.7,18.7h0M346.6,23.7h0M347.6,20.8h0M349.0,20.6h0M352.6,20.8h0M351.2,20.6h0M349.4,18.1h0M352.5,21.6h0M350.5,22.7h0M353.5,18.8h0M347.2,24.8h0M352.5,24.4h0M351.4,18.9h0M354.6,19.9h0M350.7,19.1h0M351.3,18.8h0M349.1,19.9h0M353.8,22.1h0M346.5,23.3h0M348.6,19.6h0M346.2,21.2h0M350.2,22.6h0M349.1,17.2h0M343.9,20.0h0M350.2,19.5h0M350.9,23.7h0M349.5,25.3h0M352.5,19.4h0M342.2,25.8h0M341.4,23.8h0M334.8,30.5h0M336.8,25.6h0M340.4,26.9h0M341.4,31.6h0M340.4,28.2h0M335.3,32.9h0M335.0,32.5h0M334.5,26.4h0M337.6,31.6h0M341.7,26.4h0M334.0,27.4h0M331.1,29.9h0M337.0,26.9h0M337.1,30.9h0M336.9,28.4h0M334.4,29.8h0M338.8,28.2h0M328.0,32.4h0M335.1,36.0h0M332.2,34.9h0M335.1,26.6h0M340.1,29.8h0M334.0,31.3h0M334.3,33.3h0M335.1,28.4h0M336.4,33.5h0M339.6,24.6h0M347.0,28.4h0M336.3,31.1h0M333.6,32.4h0M336.2,33.6h0M340.5,31.7h0M340.3,26.7h0M334.1,30.7h0M336.0,33.7h0M342.3,24.4h0M340.7,28.5h0M332.8,33.2h0M317.4,36.4h0M318.5,46.0h0M330.0,44.3h0M324.5,19.7h0M322.3,23.0h0M320.7,40.0h0M330.0,41.6h0M325.0,37.8h0M352.9,37.2h0M351.5,37.6h0M348.0,38.9h0M344.7,39.2h0M333.2,18.1h0M328.9,19.2h0M322.6,27.5h0M326.0,24.0h0M321.5,31.5h0M335.0,40.2h0M339.0,38.5h0M342.0,37.5h0M354.2,33.0h0M353.0,35.0h0M231.6,124.3h0M233.9,124.7h0M236.1,118.8h0M228.6,122.8h0M228.4,122.5h0M227.5,126.0h0M233.9,117.5h0M238.5,120.1h0M240.0,117.8h0M236.9,119.5h0M238.7,118.8h0M233.7,125.2h0M235.7,117.4h0M244.1,110.9h0M234.0,121.8h0M232.5,122.7h0M232.9,120.6h0M232.9,119.2h0M240.3,117.2h0M233.7,124.5h0M240.6,115.9h0M231.5,121.8h0M233.6,120.4h0M232.6,124.7h0M229.8,123.4h0M233.8,123.7h0M232.3,121.7h0M236.5,118.7h0M230.7,122.0h0M234.4,122.5h0M240.4,117.2h0M234.4,121.5h0M231.9,121.9h0M239.2,116.6h0M228.6,119.5h0M229.1,120.4h0M238.5,117.7h0M228.1,124.9h0M231.3,120.0h0M235.9,119.9h0M235.0,116.8h0M230.7,121.8h0M234.5,119.2h0M237.7,115.6h0M230.5,126.2h0M235.4,121.3h0M232.1,117.8h0M235.9,120.9h0M233.5,121.9h0M236.4,121.5h0M231.9,122.3h0M233.5,121.5h0M235.2,117.3h0M238.6,119.4h0M238.9,121.2h0M237.5,122.5h0M233.7,121.2h0M228.6,124.3h0M238.6,113.4h0M236.5,118.4h0M237.9,118.8h0M236.5,117.5h0M232.9,120.6h0M228.9,123.4h0M231.1,123.9h0M227.7,125.1h0M235.9,120.8h0M241.4,116.1h0M228.7,125.5h0M233.2,124.6h0M234.5,120.7h0M235.4,121.2h0M233.8,117.1h0M233.5,123.3h0M226.6,121.6h0M232.8,119.6h0M238.3,117.1h0M232.3,120.1h0M229.8,126.2h0M228.2,123.5h0M235.2,120.6h0M236.2,119.7h0M238.0,117.1h0M229.9,125.1h0M239.1,119.3h0M228.0,123.5h0M231.7,122.0h0M228.7,123.3h0M229.4,125.9h0M232.3,120.3h0M227.4,125.9h0M233.7,121.8h0M239.7,121.9h0M234.0,120.8h0M230.1,120.7h0M235.9,120.1h0M233.9,121.0h0M232.0,124.1h0M235.8,119.3h0M229.5,127.2h0M233.5,122.2h0M230.1,124.5h0M231.5,120.9h0M238.0,117.9h0M232.8,120.4h0M234.9,119.3h0M238.3,117.7h0M238.9,113.5h0M230.7,123.1h0M230.8,120.9h0M228.6,122.5h0M235.4,118.6h0M233.2,119.8h0M230.9,121.9h0M234.6,122.6h0M230.0,124.5h0M233.9,120.8h0M233.0,120.6h0M230.4,119.0h0M234.4,120.2h0M236.2,123.9h0M231.1,125.5h0M237.4,119.7h0M229.7,126.9h0M232.5,122.8h0M238.6,118.4h0M238.3,119.9h0M236.2,120.9h0M233.9,117.9h0M241.0,118.1h0M236.7,122.4h0M230.9,123.1h0M238.9,114.7h0M239.0,119.2h0M228.1,127.4h0M233.4,123.8h0M237.5,120.5h0M238.3,119.1h0M233.5,122.0h0M229.5,120.1h0M227.8,126.8h0M229.8,127.9h0M236.2,123.3h0M237.5,118.8h0M243.1,115.7h0M240.8,118.8h0M242.7,115.5h0M246.8,111.1h0M245.8,110.5h0M242.9,111.7h0M239.8,117.9h0M241.2,113.7h0M245.1,112.1h0M239.7,115.8h0M234.8,117.1h0M234.8,118.3h0M236.8,118.0h0M239.6,114.7h0M239.1,115.2h0M232.9,121.2h0M234.2,122.1h0M240.3,115.5h0M238.2,117.5h0M240.3,115.7h0M239.5,115.1h0M236.9,120.2h0M242.7,113.6h0M239.0,114.8h0M241.1,114.6h0M239.7,114.2h0M237.9,118.3h0M241.2,114.7h0M245.3,113.7h0M247.0,110.6h0M239.8,114.6h0M242.5,112.1h0M244.6,112.5h0M239.0,116.8h0M241.5,117.6h0M234.5,118.4h0M241.4,115.3h0M240.6,116.1h0M244.0,115.5h0M242.0,113.0h0M241.8,115.3h0M243.0,113.6h0M242.6,111.9h0M235.1,120.4h0M239.2,115.5h0M246.8,108.0h0M243.6,113.4h0M239.7,112.9h0M243.0,113.3h0M241.1,114.8h0M237.3,120.5h0M238.6,114.4h0M240.4,112.6h0M237.8,116.1h0M241.5,116.1h0M243.2,116.4h0M249.0,119.3h0M250.4,121.8h0M246.5,117.2h0M242.3,116.2h0M250.5,121.0h0M245.5,118.4h0M245.0,117.8h0M246.0,119.4h0M242.3,116.3h0M245.0,117.3h0M249.3,119.6h0M246.2,118.8h0M242.5,116.0h0M246.2,117.2h0M241.2,114.5h0M248.2,119.4h0M244.1,116.3h0M251.8,122.0h0M244.0,116.1h0M242.9,116.6h0M248.0,118.5h0M245.8,118.1h0M243.8,117.8h0M249.1,119.4h0M248.6,118.3h0M249.8,120.3h0M243.7,112.8h0M246.2,111.1h0M243.8,113.5h0M246.9,109.3h0M247.2,109.9h0M245.3,111.4h0M247.1,109.6h0M249.3,108.7h0M245.5,113.0h0M245.9,111.3h0M247.9,106.9h0M246.0,112.2h0M247.9,109.6h0M246.9,109.4h0M245.3,111.3h0M247.0,109.7h0M244.6,113.7h0M245.4,111.6h0M235.7,127.4h0M234.8,126.8h0M233.1,127.7h0M229.9,127.8h0M232.7,127.4h0M229.0,128.3h0M238.0,126.6h0M234.2,127.7h0M236.5,127.3h0M231.3,127.2h0M229.4,128.1h0M229.4,127.4h0M228.1,127.6h0M237.4,127.4h0M236.2,126.5h0M232.8,127.7h0M230.5,127.6h0M232.5,127.5h0M229.4,127.4h0M234.5,126.8h0M235.0,126.5h0M234.5,127.5h0M252.3,122.6h0M238.8,106.6h0M241.0,107.5h0M243.5,107.0h0M351.2,126.9h0M353.2,126.6h0M353.9,128.0h0M351.6,127.0h0M352.6,126.7h0M355.1,128.2h0M353.1,126.3h0M351.4,128.1h0M351.1,126.8h0M354.7,128.2h0M353.8,128.6h0M352.3,126.8h0M351.9,125.7h0M353.1,125.8h0M353.0,125.5h0M350.3,127.8h0M353.8,128.4h0M355.2,127.0h0M355.1,127.8h0M353.3,127.6h0M352.9,127.3h0M352.7,127.5h0M352.5,125.9h0M354.9,127.5h0M350.3,127.5h0M351.6,126.4h0M354.5,127.8h0M352.0,127.7h0M353.1,126.5h0M351.0,124.7h0M353.3,128.6h0M353.8,128.2h0M353.8,128.0h0M354.0,127.2h0M353.6,127.5h0M353.2,126.2h0M354.9,128.3h0M353.9,127.5h0M352.5,127.1h0M352.6,125.9h0M353.0,128.0h0M352.8,128.9h0M353.0,126.7h0M352.6,126.1h0M354.1,126.7h0M353.6,125.8h0M351.7,125.5h0M352.1,124.9h0M351.8,126.8h0M351.9,128.4h0M354.0,127.9h0M353.7,126.2h0M354.0,127.7h0M354.0,126.0h0M353.8,127.7h0M353.4,125.8h0M355.1,125.9h0M354.6,128.0h0M353.5,126.8h0M353.1,127.4h0M354.9,126.4h0M354.4,124.5h0M351.3,125.1h0M353.9,126.7h0M353.0,127.8h0M351.1,126.2h0M350.2,127.2h0M354.6,127.2h0M353.0,128.0h0M352.7,126.2h0M353.8,126.3h0M352.5,127.1h0M353.7,126.3h0M352.6,127.5h0M354.9,126.6h0M353.4,127.0h0M353.0,127.6h0M354.5,126.8h0M352.7,128.0h0M354.8,124.9h0M352.2,125.1h0M352.0,127.7h0M354.4,127.3h0M353.8,128.2h0M352.6,127.5h0M352.7,127.6h0M351.1,127.4h0M352.2,126.7h0M353.8,126.0h0M352.1,127.4h0M354.9,126.9h0M345.6,122.0h0M352.0,122.5h0M354.0,121.0h0"/>
</g>
<g fill="none" stroke="#000" stroke-width="0.52">
<rect x="221.2" y="11.5" width="139.70" height="121.80"/>
<path d="M226.00,133.3v3.3M246.55,133.3v3.3M267.10,133.3v3.3M287.65,133.3v3.3M308.20,133.3v3.3M328.75,133.3v3.3M349.30,133.3v3.3M221.2,128.75h-3.4M221.2,110.85h-3.4M221.2,92.95h-3.4M221.2,75.05h-3.4M221.2,57.15h-3.4M221.2,39.25h-3.4M221.2,21.35h-3.4"/>
</g>
<g font-family='"Liberation Sans", Arial, Helvetica, sans-serif' font-size="10px" fill="#000" stroke="#000" stroke-width="0.22">
<text x="226.00" y="147.9" text-anchor="middle" font-size="9.6px" stroke-width="0.16">0</text>
<text x="246.55" y="147.9" text-anchor="middle" font-size="9.6px" stroke-width="0.16">1</text>
<text x="267.10" y="147.9" text-anchor="middle" font-size="9.6px" stroke-width="0.16">2</text>
<text x="287.65" y="147.9" text-anchor="middle" font-size="9.6px" stroke-width="0.16">3</text>
<text x="308.20" y="147.9" text-anchor="middle" font-size="9.6px" stroke-width="0.16">4</text>
<text x="328.75" y="147.9" text-anchor="middle" font-size="9.6px" stroke-width="0.16">5</text>
<text x="349.30" y="147.9" text-anchor="middle" font-size="9.6px" stroke-width="0.16">6</text>
<text x="214.3" y="132.15" text-anchor="end" font-size="9.6px" stroke-width="0.16">0</text>
<text x="214.3" y="114.25" text-anchor="end" font-size="9.6px" stroke-width="0.16">1</text>
<text x="214.3" y="96.35" text-anchor="end" font-size="9.6px" stroke-width="0.16">2</text>
<text x="214.3" y="78.45" text-anchor="end" font-size="9.6px" stroke-width="0.16">3</text>
<text x="214.3" y="60.55" text-anchor="end" font-size="9.6px" stroke-width="0.16">4</text>
<text x="214.3" y="42.65" text-anchor="end" font-size="9.6px" stroke-width="0.16">5</text>
<text x="214.3" y="24.75" text-anchor="end" font-size="9.6px" stroke-width="0.16">6</text>
<text x="291.1" y="163.8" text-anchor="middle">Wind Direction [rad]</text>
<text transform="translate(196.1,72.8) rotate(-90)" text-anchor="middle">Wave Direction [rad]</text>
<text x="291.1" y="6.8" text-anchor="middle" font-weight="bold" font-size="9.8px" stroke-width="0.1">Circular</text>
</g>
<clipPath id="c2"><rect x="405.7" y="11.5" width="139.90" height="121.80"/></clipPath>
<g clip-path="url(#c2)" fill="none" stroke="#000" stroke-width="0.5">
<path d="M448.3,90.8 L447.9,89.9 L447.6,88.9 L447.3,87.8 L447.2,86.7 L447.1,85.6 L447.2,84.5 L447.3,83.3 L447.5,82.2 L447.8,81.0 L448.2,79.8 L448.6,78.5 L449.2,77.3 L449.8,76.1 L450.6,74.9 L451.4,73.6 L452.2,72.4 L453.2,71.2 L454.2,70.0 L455.3,68.8 L456.4,67.7 L457.7,66.6 L458.9,65.4 L460.3,64.4 L461.7,63.3 L463.1,62.3 L464.6,61.3 L466.1,60.4 L467.7,59.5 L469.2,58.7 L470.9,57.9 L472.5,57.1 L474.2,56.4 L475.8,55.8 L477.5,55.2 L479.2,54.7 L480.9,54.2 L482.6,53.8 L484.3,53.5 L486.0,53.2 L487.6,53.0 L489.2,52.8 L490.8,52.7 L492.4,52.7 L493.9,52.7 L495.4,52.8 L496.9,53.0 L498.3,53.2 L499.6,53.5 L500.9,53.9 L502.2,54.3 L503.3,54.7 L504.5,55.3 L505.5,55.9 L506.5,56.5 L507.4,57.2 L508.2,57.9 L508.9,58.7 L509.6,59.6 L510.2,60.5 L510.7,61.4 L511.1,62.4 L511.4,63.4 L511.6,64.5 L511.8,65.5 L511.8,66.6 L511.8,67.8 L511.7,68.9 L511.5,70.1 L511.2,71.3 L510.8,72.5 L510.3,73.7 L509.8,75.0 L509.1,76.2 L508.4,77.4 L507.6,78.6 L506.7,79.9 L505.8,81.1 L504.8,82.3 L503.7,83.4 L502.5,84.6 L501.3,85.7 L500.0,86.8 L498.7,87.9 L497.3,88.9 L495.9,90.0 L494.4,90.9 L492.9,91.9 L491.3,92.7 L489.7,93.6 L488.1,94.4 L486.5,95.1 L484.8,95.8 L483.1,96.5 L481.4,97.0 L479.7,97.6 L478.0,98.0 L476.4,98.4 L474.7,98.8 L473.0,99.1 L471.4,99.3 L469.7,99.5 L468.1,99.5 L466.6,99.6 L465.0,99.5 L463.5,99.4 L462.1,99.3 L460.7,99.1 L459.3,98.8 L458.0,98.4 L456.8,98.0 L455.6,97.5 L454.5,97.0 L453.5,96.4 L452.5,95.8 L451.6,95.1 L450.8,94.3 L450.0,93.5 L449.4,92.7 L448.8,91.8Z"/>
<path d="M457.0,86.7 L456.7,86.0 L456.5,85.3 L456.3,84.5 L456.2,83.8 L456.2,83.0 L456.2,82.1 L456.3,81.3 L456.5,80.5 L456.7,79.6 L456.9,78.7 L457.3,77.9 L457.7,77.0 L458.1,76.1 L458.7,75.2 L459.2,74.3 L459.9,73.5 L460.5,72.6 L461.3,71.7 L462.1,70.9 L462.9,70.1 L463.8,69.2 L464.7,68.4 L465.6,67.7 L466.6,66.9 L467.7,66.2 L468.7,65.5 L469.8,64.8 L471.0,64.2 L472.1,63.6 L473.3,63.0 L474.5,62.5 L475.7,62.0 L476.9,61.5 L478.1,61.1 L479.3,60.7 L480.5,60.4 L481.7,60.1 L482.9,59.8 L484.1,59.6 L485.3,59.5 L486.5,59.3 L487.7,59.3 L488.8,59.3 L489.9,59.3 L491.0,59.4 L492.0,59.5 L493.0,59.6 L494.0,59.8 L494.9,60.1 L495.8,60.4 L496.7,60.7 L497.5,61.1 L498.2,61.5 L498.9,62.0 L499.6,62.5 L500.1,63.0 L500.7,63.6 L501.2,64.2 L501.6,64.9 L501.9,65.5 L502.2,66.2 L502.4,67.0 L502.6,67.7 L502.7,68.5 L502.8,69.3 L502.7,70.1 L502.7,71.0 L502.5,71.8 L502.3,72.7 L502.0,73.5 L501.7,74.4 L501.3,75.3 L500.8,76.2 L500.3,77.1 L499.7,77.9 L499.1,78.8 L498.4,79.7 L497.7,80.5 L496.9,81.4 L496.1,82.2 L495.2,83.0 L494.3,83.8 L493.3,84.6 L492.3,85.4 L491.3,86.1 L490.2,86.8 L489.1,87.5 L488.0,88.1 L486.9,88.7 L485.7,89.3 L484.5,89.8 L483.3,90.3 L482.1,90.8 L480.9,91.2 L479.7,91.6 L478.4,91.9 L477.2,92.2 L476.0,92.4 L474.8,92.7 L473.6,92.8 L472.5,92.9 L471.3,93.0 L470.2,93.0 L469.1,93.0 L468.0,92.9 L467.0,92.8 L465.9,92.6 L465.0,92.4 L464.0,92.2 L463.1,91.9 L462.3,91.5 L461.5,91.2 L460.8,90.7 L460.1,90.3 L459.4,89.8 L458.8,89.2 L458.3,88.7 L457.8,88.0 L457.4,87.4Z"/>
<path d="M460.8,85.0 L460.5,84.4 L460.3,83.8 L460.2,83.1 L460.1,82.5 L460.1,81.8 L460.1,81.1 L460.2,80.5 L460.3,79.7 L460.5,79.0 L460.7,78.3 L461.0,77.6 L461.3,76.8 L461.7,76.1 L462.1,75.4 L462.6,74.6 L463.1,73.9 L463.7,73.2 L464.3,72.5 L465.0,71.8 L465.7,71.1 L466.4,70.4 L467.2,69.7 L468.0,69.1 L468.8,68.4 L469.6,67.8 L470.5,67.3 L471.5,66.7 L472.4,66.2 L473.3,65.7 L474.3,65.2 L475.3,64.7 L476.3,64.3 L477.3,63.9 L478.3,63.6 L479.3,63.3 L480.3,63.0 L481.4,62.7 L482.4,62.5 L483.4,62.4 L484.4,62.2 L485.3,62.1 L486.3,62.1 L487.2,62.1 L488.2,62.1 L489.1,62.1 L489.9,62.2 L490.8,62.4 L491.6,62.6 L492.4,62.8 L493.1,63.0 L493.8,63.3 L494.5,63.6 L495.1,64.0 L495.7,64.4 L496.2,64.8 L496.7,65.2 L497.1,65.7 L497.5,66.2 L497.9,66.7 L498.2,67.3 L498.4,67.9 L498.6,68.5 L498.8,69.1 L498.8,69.8 L498.9,70.4 L498.9,71.1 L498.8,71.8 L498.7,72.5 L498.5,73.2 L498.3,74.0 L498.0,74.7 L497.7,75.4 L497.3,76.2 L496.8,76.9 L496.4,77.6 L495.8,78.4 L495.3,79.1 L494.7,79.8 L494.0,80.5 L493.3,81.2 L492.6,81.9 L491.8,82.5 L491.0,83.2 L490.2,83.8 L489.3,84.4 L488.4,85.0 L487.5,85.6 L486.6,86.1 L485.6,86.6 L484.7,87.1 L483.7,87.5 L482.7,87.9 L481.7,88.3 L480.6,88.7 L479.6,89.0 L478.6,89.3 L477.6,89.5 L476.6,89.7 L475.6,89.9 L474.6,90.0 L473.6,90.1 L472.7,90.2 L471.7,90.2 L470.8,90.2 L469.9,90.1 L469.0,90.0 L468.2,89.9 L467.4,89.7 L466.6,89.5 L465.9,89.3 L465.2,89.0 L464.5,88.7 L463.9,88.3 L463.3,87.9 L462.8,87.5 L462.3,87.0 L461.8,86.6 L461.4,86.1 L461.1,85.5Z"/>
<path d="M464.5,83.2 L464.3,82.7 L464.2,82.2 L464.1,81.7 L464.0,81.2 L464.0,80.7 L464.0,80.1 L464.0,79.6 L464.1,79.0 L464.3,78.4 L464.5,77.9 L464.7,77.3 L464.9,76.7 L465.3,76.1 L465.6,75.5 L466.0,74.9 L466.4,74.3 L466.9,73.8 L467.3,73.2 L467.9,72.6 L468.4,72.1 L469.0,71.5 L469.6,71.0 L470.3,70.5 L470.9,70.0 L471.6,69.5 L472.3,69.0 L473.1,68.6 L473.8,68.2 L474.6,67.8 L475.3,67.4 L476.1,67.0 L476.9,66.7 L477.7,66.4 L478.5,66.1 L479.4,65.8 L480.2,65.6 L481.0,65.4 L481.8,65.3 L482.6,65.1 L483.4,65.0 L484.2,64.9 L484.9,64.9 L485.7,64.9 L486.4,64.9 L487.1,64.9 L487.8,65.0 L488.5,65.1 L489.2,65.3 L489.8,65.4 L490.4,65.6 L490.9,65.9 L491.5,66.1 L492.0,66.4 L492.4,66.7 L492.9,67.0 L493.3,67.4 L493.6,67.8 L493.9,68.2 L494.2,68.6 L494.4,69.1 L494.6,69.5 L494.8,70.0 L494.9,70.5 L495.0,71.0 L495.0,71.6 L495.0,72.1 L494.9,72.7 L494.8,73.2 L494.7,73.8 L494.5,74.4 L494.3,75.0 L494.0,75.6 L493.7,76.2 L493.4,76.7 L493.0,77.3 L492.6,77.9 L492.1,78.5 L491.6,79.1 L491.1,79.6 L490.5,80.2 L490.0,80.7 L489.3,81.3 L488.7,81.8 L488.0,82.3 L487.3,82.8 L486.6,83.2 L485.9,83.7 L485.2,84.1 L484.4,84.5 L483.6,84.9 L482.8,85.3 L482.0,85.6 L481.2,85.9 L480.4,86.2 L479.6,86.4 L478.8,86.6 L478.0,86.8 L477.2,87.0 L476.4,87.1 L475.6,87.3 L474.8,87.3 L474.0,87.4 L473.3,87.4 L472.5,87.4 L471.8,87.3 L471.1,87.2 L470.5,87.1 L469.8,87.0 L469.2,86.8 L468.6,86.6 L468.0,86.4 L467.5,86.1 L467.0,85.9 L466.5,85.6 L466.1,85.2 L465.7,84.9 L465.4,84.5 L465.0,84.1 L464.8,83.6Z"/>
<path d="M467.6,81.7 L467.5,81.4 L467.4,81.0 L467.3,80.6 L467.2,80.2 L467.2,79.7 L467.2,79.3 L467.3,78.9 L467.3,78.4 L467.4,78.0 L467.6,77.5 L467.8,77.0 L468.0,76.6 L468.2,76.1 L468.5,75.6 L468.8,75.2 L469.1,74.7 L469.5,74.3 L469.9,73.8 L470.3,73.4 L470.7,72.9 L471.2,72.5 L471.7,72.1 L472.2,71.7 L472.7,71.3 L473.3,70.9 L473.8,70.5 L474.4,70.2 L475.0,69.8 L475.6,69.5 L476.2,69.2 L476.8,68.9 L477.5,68.7 L478.1,68.4 L478.7,68.2 L479.4,68.0 L480.0,67.8 L480.7,67.7 L481.3,67.5 L481.9,67.4 L482.6,67.3 L483.2,67.3 L483.8,67.2 L484.4,67.2 L485.0,67.2 L485.5,67.3 L486.1,67.3 L486.6,67.4 L487.1,67.5 L487.6,67.7 L488.1,67.8 L488.5,68.0 L489.0,68.2 L489.4,68.4 L489.7,68.7 L490.1,68.9 L490.4,69.2 L490.7,69.5 L490.9,69.8 L491.1,70.2 L491.3,70.5 L491.5,70.9 L491.6,71.3 L491.7,71.7 L491.7,72.1 L491.8,72.5 L491.8,73.0 L491.7,73.4 L491.6,73.8 L491.5,74.3 L491.4,74.8 L491.2,75.2 L491.0,75.7 L490.7,76.2 L490.5,76.6 L490.2,77.1 L489.8,77.5 L489.5,78.0 L489.1,78.5 L488.7,78.9 L488.2,79.3 L487.8,79.8 L487.3,80.2 L486.8,80.6 L486.3,81.0 L485.7,81.4 L485.1,81.8 L484.6,82.1 L484.0,82.4 L483.4,82.8 L482.8,83.1 L482.1,83.4 L481.5,83.6 L480.9,83.9 L480.2,84.1 L479.6,84.3 L478.9,84.5 L478.3,84.6 L477.7,84.7 L477.0,84.9 L476.4,84.9 L475.8,85.0 L475.2,85.0 L474.6,85.0 L474.0,85.0 L473.4,85.0 L472.9,84.9 L472.3,84.8 L471.8,84.7 L471.3,84.6 L470.9,84.4 L470.4,84.3 L470.0,84.1 L469.6,83.8 L469.2,83.6 L468.9,83.3 L468.6,83.0 L468.3,82.7 L468.0,82.4 L467.8,82.1Z"/>
<path d="M470.8,80.3 L470.6,80.0 L470.6,79.7 L470.5,79.4 L470.4,79.1 L470.4,78.8 L470.4,78.5 L470.5,78.1 L470.5,77.8 L470.6,77.5 L470.7,77.1 L470.8,76.8 L471.0,76.5 L471.2,76.1 L471.4,75.8 L471.6,75.4 L471.8,75.1 L472.1,74.8 L472.4,74.4 L472.7,74.1 L473.0,73.8 L473.4,73.5 L473.7,73.1 L474.1,72.8 L474.5,72.5 L474.9,72.3 L475.3,72.0 L475.7,71.7 L476.2,71.5 L476.6,71.2 L477.1,71.0 L477.5,70.8 L478.0,70.6 L478.5,70.4 L478.9,70.3 L479.4,70.1 L479.9,70.0 L480.4,69.9 L480.8,69.8 L481.3,69.7 L481.8,69.6 L482.2,69.6 L482.7,69.6 L483.1,69.6 L483.5,69.6 L483.9,69.6 L484.4,69.7 L484.7,69.7 L485.1,69.8 L485.5,69.9 L485.8,70.0 L486.2,70.1 L486.5,70.3 L486.8,70.5 L487.0,70.6 L487.3,70.8 L487.5,71.0 L487.7,71.3 L487.9,71.5 L488.1,71.8 L488.2,72.0 L488.3,72.3 L488.4,72.6 L488.5,72.9 L488.5,73.2 L488.5,73.5 L488.5,73.8 L488.5,74.1 L488.4,74.4 L488.4,74.8 L488.2,75.1 L488.1,75.5 L488.0,75.8 L487.8,76.1 L487.6,76.5 L487.4,76.8 L487.1,77.2 L486.8,77.5 L486.6,77.8 L486.3,78.2 L485.9,78.5 L485.6,78.8 L485.2,79.1 L484.9,79.4 L484.5,79.7 L484.1,80.0 L483.7,80.3 L483.2,80.5 L482.8,80.8 L482.3,81.0 L481.9,81.2 L481.4,81.5 L481.0,81.6 L480.5,81.8 L480.0,82.0 L479.6,82.1 L479.1,82.3 L478.6,82.4 L478.1,82.5 L477.7,82.6 L477.2,82.6 L476.8,82.7 L476.3,82.7 L475.9,82.7 L475.4,82.7 L475.0,82.7 L474.6,82.6 L474.2,82.6 L473.8,82.5 L473.5,82.4 L473.1,82.3 L472.8,82.1 L472.5,82.0 L472.2,81.8 L471.9,81.6 L471.7,81.4 L471.4,81.2 L471.2,81.0 L471.1,80.8 L470.9,80.5Z"/>
<path d="M474.8,78.3 L474.7,78.2 L474.7,78.0 L474.7,77.9 L474.6,77.7 L474.6,77.6 L474.6,77.4 L474.7,77.2 L474.7,77.0 L474.7,76.9 L474.8,76.7 L474.9,76.5 L474.9,76.3 L475.0,76.1 L475.1,75.9 L475.3,75.8 L475.4,75.6 L475.5,75.4 L475.7,75.2 L475.9,75.0 L476.0,74.9 L476.2,74.7 L476.4,74.5 L476.6,74.4 L476.8,74.2 L477.0,74.1 L477.2,73.9 L477.5,73.8 L477.7,73.6 L477.9,73.5 L478.2,73.4 L478.4,73.3 L478.7,73.2 L478.9,73.1 L479.2,73.0 L479.4,72.9 L479.7,72.8 L480.0,72.8 L480.2,72.7 L480.5,72.7 L480.7,72.7 L480.9,72.6 L481.2,72.6 L481.4,72.6 L481.7,72.6 L481.9,72.6 L482.1,72.7 L482.3,72.7 L482.5,72.7 L482.7,72.8 L482.9,72.9 L483.1,72.9 L483.2,73.0 L483.4,73.1 L483.5,73.2 L483.7,73.3 L483.8,73.4 L483.9,73.5 L484.0,73.7 L484.1,73.8 L484.2,73.9 L484.2,74.1 L484.3,74.2 L484.3,74.4 L484.3,74.5 L484.3,74.7 L484.3,74.9 L484.3,75.1 L484.3,75.2 L484.2,75.4 L484.2,75.6 L484.1,75.8 L484.0,76.0 L483.9,76.1 L483.8,76.3 L483.7,76.5 L483.6,76.7 L483.4,76.9 L483.3,77.1 L483.1,77.2 L482.9,77.4 L482.8,77.6 L482.6,77.7 L482.4,77.9 L482.2,78.1 L481.9,78.2 L481.7,78.4 L481.5,78.5 L481.3,78.6 L481.0,78.8 L480.8,78.9 L480.5,79.0 L480.3,79.1 L480.0,79.2 L479.8,79.3 L479.5,79.3 L479.3,79.4 L479.0,79.5 L478.8,79.5 L478.5,79.6 L478.3,79.6 L478.0,79.6 L477.8,79.6 L477.5,79.7 L477.3,79.6 L477.1,79.6 L476.9,79.6 L476.7,79.6 L476.5,79.5 L476.3,79.5 L476.1,79.4 L475.9,79.3 L475.7,79.3 L475.6,79.2 L475.4,79.1 L475.3,79.0 L475.2,78.9 L475.1,78.7 L475.0,78.6 L474.9,78.5Z"/>
</g>
<g clip-path="url(#c2)" fill="none" stroke="#000" stroke-linecap="round" stroke-width="1.8">
<path d="M496.3,38.2h0M498.6,37.7h0M493.4,46.4h0M491.7,50.0h0M501.6,53.8h0M513.0,54.9h0M502.0,56.2h0M490.0,57.0h0M501.6,59.5h0M503.2,61.1h0M509.8,64.1h0M500.8,65.2h0M504.9,66.4h0M468.0,62.5h0M478.6,62.8h0M488.5,60.3h0M486.8,66.0h0M501.6,69.3h0M502.4,73.4h0M505.7,74.3h0M494.2,83.3h0M498.3,82.5h0M503.2,81.6h0M506.5,83.3h0M509.0,84.4h0M511.1,84.9h0M472.4,93.6h0M474.5,100.2h0M468.0,88.7h0M462.2,88.7h0M468.3,64.5h0M471.0,66.5h0M476.0,64.0h0M482.0,63.2h0M500.4,57.5h0M501.0,62.8h0M503.5,68.0h0M504.2,71.5h0M500.0,78.5h0M496.5,80.5h0M492.0,82.2h0M489.0,80.5h0M468.9,83.8h0M469.5,80.7h0M469.8,77.1h0M468.7,83.9h0M468.2,85.2h0M471.4,71.1h0M469.1,83.5h0M470.5,75.5h0M469.0,80.0h0M469.3,77.2h0M470.0,76.7h0M470.1,75.1h0M468.1,85.4h0M468.5,79.1h0M469.3,74.4h0M469.7,73.8h0M469.4,75.2h0M469.6,74.5h0M469.6,77.6h0M470.7,73.2h0M469.8,75.6h0M470.2,73.0h0M468.5,83.5h0M470.1,75.8h0M470.4,72.4h0M469.5,79.3h0M468.8,85.4h0M468.4,82.2h0M469.2,82.1h0M470.1,77.3h0M469.3,77.3h0M469.7,76.0h0M468.6,85.3h0M469.7,80.5h0M469.9,77.5h0M468.6,82.8h0M469.3,72.3h0M469.8,78.5h0M469.5,80.3h0M469.3,86.0h0M470.9,74.2h0M470.6,75.7h0M475.4,75.6h0M481.7,81.5h0M476.4,75.4h0M485.1,76.4h0M480.8,72.4h0M484.8,77.3h0M484.1,78.8h0M479.9,72.4h0M482.1,74.3h0M477.5,80.5h0M475.6,75.0h0M483.4,74.8h0M477.5,73.9h0M476.2,80.0h0M479.5,81.0h0M476.3,80.2h0M478.4,82.8h0M479.4,75.1h0M480.9,82.7h0M484.2,79.4h0M483.6,75.0h0M476.0,79.5h0M482.3,80.7h0M483.4,76.0h0M484.4,77.0h0M485.6,77.8h0M477.3,73.8h0M476.0,75.0h0M482.3,81.4h0M483.8,79.8h0M475.4,82.2h0M478.0,81.5h0M477.6,76.2h0M473.5,77.3h0M470.3,74.0h0M478.6,76.7h0M473.6,80.6h0M477.3,70.2h0M474.6,76.9h0M475.3,85.0h0M473.0,76.5h0M476.3,70.4h0M471.9,73.2h0M472.7,85.4h0M473.6,77.4h0M474.8,78.0h0M473.7,75.3h0M477.8,78.4h0M475.8,83.3h0M474.7,75.7h0M474.5,71.8h0M473.3,73.5h0M476.7,78.7h0M473.0,77.7h0M465.8,83.3h0M469.6,84.6h0M466.7,83.9h0M464.3,85.7h0M463.5,83.9h0M468.4,80.6h0M467.3,84.9h0M465.8,81.9h0M463.5,86.9h0M468.1,79.8h0M464.7,79.8h0M463.4,88.6h0M468.3,80.1h0M463.9,80.4h0M467.2,82.4h0M467.3,85.8h0M465.5,81.7h0M463.6,87.8h0M479.9,72.7h0M476.1,72.5h0M471.3,70.7h0M473.5,71.4h0M477.5,72.1h0M482.8,72.1h0M475.9,72.2h0M475.4,71.2h0M480.2,74.1h0M470.8,71.0h0M481.9,72.5h0M480.8,72.1h0M481.3,71.3h0M479.3,71.7h0M484.6,72.5h0M475.8,71.1h0M472.3,70.2h0M474.1,72.2h0M479.0,71.8h0M472.0,70.5h0M473.0,72.5h0M485.0,71.7h0M489.8,81.1h0M487.9,79.4h0M489.2,80.5h0M495.0,82.9h0M484.7,75.5h0M489.8,81.2h0M489.4,80.2h0M495.7,83.6h0M470.9,88.1h0M470.9,87.2h0M470.7,90.5h0M467.2,86.5h0M468.9,90.2h0M470.2,89.1h0M470.6,90.6h0M465.9,89.7h0M469.7,92.1h0M467.8,90.8h0M466.6,90.0h0M469.6,90.0h0M473.3,86.8h0M469.9,89.3h0"/>
</g>
<g fill="none" stroke="#000" stroke-width="0.52">
<rect x="405.7" y="11.5" width="139.90" height="121.80"/>
<path d="M410.50,133.3v3.3M431.05,133.3v3.3M451.60,133.3v3.3M472.15,133.3v3.3M492.70,133.3v3.3M513.25,133.3v3.3M533.80,133.3v3.3M405.7,128.75h-3.4M405.7,110.85h-3.4M405.7,92.95h-3.4M405.7,75.05h-3.4M405.7,57.15h-3.4M405.7,39.25h-3.4M405.7,21.35h-3.4"/>
</g>
<g font-family='"Liberation Sans", Arial, Helvetica, sans-serif' font-size="10px" fill="#000" stroke="#000" stroke-width="0.22">
<text x="410.50" y="147.9" text-anchor="middle" font-size="9.6px" stroke-width="0.16">0</text>
<text x="431.05" y="147.9" text-anchor="middle" font-size="9.6px" stroke-width="0.16">1</text>
<text x="451.60" y="147.9" text-anchor="middle" font-size="9.6px" stroke-width="0.16">2</text>
<text x="472.15" y="147.9" text-anchor="middle" font-size="9.6px" stroke-width="0.16">3</text>
<text x="492.70" y="147.9" text-anchor="middle" font-size="9.6px" stroke-width="0.16">4</text>
<text x="513.25" y="147.9" text-anchor="middle" font-size="9.6px" stroke-width="0.16">5</text>
<text x="533.80" y="147.9" text-anchor="middle" font-size="9.6px" stroke-width="0.16">6</text>
<text x="399.1" y="132.15" text-anchor="end" font-size="9.6px" stroke-width="0.16">0</text>
<text x="399.1" y="114.25" text-anchor="end" font-size="9.6px" stroke-width="0.16">1</text>
<text x="399.1" y="96.35" text-anchor="end" font-size="9.6px" stroke-width="0.16">2</text>
<text x="399.1" y="78.45" text-anchor="end" font-size="9.6px" stroke-width="0.16">3</text>
<text x="399.1" y="60.55" text-anchor="end" font-size="9.6px" stroke-width="0.16">4</text>
<text x="399.1" y="42.65" text-anchor="end" font-size="9.6px" stroke-width="0.16">5</text>
<text x="399.1" y="24.75" text-anchor="end" font-size="9.6px" stroke-width="0.16">6</text>
<text x="475.6" y="163.8" text-anchor="middle">Wind Direction [rad]</text>
<text transform="translate(380.9,72.8) rotate(-90)" text-anchor="middle">Wave Direction [rad]</text>
<text x="475.6" y="6.8" text-anchor="middle" font-weight="bold" font-size="9.8px" stroke-width="0.1">Circular</text>
</g>
<clipPath id="c3"><rect x="36.7" y="193.2" width="139.30" height="122.20"/></clipPath>
<g clip-path="url(#c3)" fill="none" stroke="#000" stroke-width="0.5">
<path d="M2.0,339.2 L1.6,338.7 L1.2,338.1 L0.9,337.5 L0.7,336.9 L0.6,336.1 L0.5,335.4 L0.5,334.5 L0.5,333.7 L0.6,332.7 L0.8,331.8 L1.0,330.7 L1.3,329.7 L1.7,328.5 L2.1,327.4 L2.6,326.2 L3.1,324.9 L3.7,323.6 L4.4,322.3 L5.1,320.9 L5.9,319.5 L6.7,318.0 L7.6,316.5 L8.5,315.0 L9.6,313.4 L10.6,311.8 L11.7,310.2 L12.9,308.6 L14.1,306.9 L15.4,305.2 L16.7,303.5 L18.1,301.7 L19.5,300.0 L20.9,298.2 L22.4,296.4 L23.9,294.6 L25.5,292.7 L27.1,290.9 L28.8,289.1 L30.5,287.2 L32.2,285.4 L34.0,283.5 L35.7,281.6 L37.5,279.8 L39.4,277.9 L41.2,276.1 L43.1,274.2 L45.0,272.4 L47.0,270.5 L48.9,268.7 L50.9,266.9 L52.8,265.1 L54.8,263.3 L56.8,261.6 L58.8,259.8 L60.8,258.1 L62.8,256.4 L64.9,254.8 L66.9,253.1 L68.9,251.5 L70.9,249.9 L72.9,248.4 L74.9,246.9 L76.9,245.4 L78.8,243.9 L80.8,242.5 L82.7,241.1 L84.6,239.8 L86.5,238.5 L88.4,237.3 L90.3,236.1 L92.1,234.9 L93.9,233.8 L95.7,232.7 L97.4,231.7 L99.1,230.7 L100.8,229.8 L102.5,229.0 L104.1,228.1 L105.6,227.4 L107.2,226.7 L108.6,226.0 L110.1,225.4 L111.5,224.9 L112.8,224.4 L114.1,224.0 L115.4,223.6 L116.6,223.3 L117.7,223.0 L118.8,222.8 L119.9,222.7 L120.9,222.6 L121.8,222.6 L122.7,222.6 L123.5,222.7 L124.2,222.9 L124.9,223.1 L125.6,223.4 L126.2,223.7 L126.7,224.1 L127.2,224.5 L127.6,225.0 L127.9,225.6 L128.2,226.2 L128.4,226.8 L128.5,227.6 L128.6,228.3 L128.6,229.1 L128.6,230.0 L128.5,231.0 L128.3,231.9 L128.1,233.0 L127.8,234.0 L127.4,235.2 L127.0,236.3 L126.5,237.5 L126.0,238.8 L125.4,240.1 L124.7,241.4 L124.0,242.8 L123.2,244.2 L122.4,245.7 L121.5,247.2 L120.6,248.7 L119.6,250.3 L118.5,251.9 L117.4,253.5 L116.2,255.1 L115.0,256.8 L113.7,258.5 L112.4,260.2 L111.1,262.0 L109.6,263.7 L108.2,265.5 L106.7,267.3 L105.2,269.1 L103.6,270.9 L102.0,272.8 L100.3,274.6 L98.6,276.5 L96.9,278.3 L95.2,280.2 L93.4,282.1 L91.6,283.9 L89.7,285.8 L87.9,287.6 L86.0,289.5 L84.1,291.3 L82.1,293.2 L80.2,295.0 L78.2,296.8 L76.3,298.6 L74.3,300.4 L72.3,302.1 L70.3,303.9 L68.3,305.6 L66.3,307.3 L64.3,308.9 L62.2,310.6 L60.2,312.2 L58.2,313.8 L56.2,315.3 L54.2,316.8 L52.2,318.3 L50.3,319.8 L48.3,321.2 L46.4,322.6 L44.5,323.9 L42.6,325.2 L40.7,326.4 L38.8,327.6 L37.0,328.8 L35.2,329.9 L33.4,331.0 L31.7,332.0 L30.0,333.0 L28.3,333.9 L26.6,334.7 L25.0,335.5 L23.5,336.3 L22.0,337.0 L20.5,337.7 L19.0,338.3 L17.6,338.8 L16.3,339.3 L15.0,339.7 L13.7,340.1 L12.5,340.4 L11.4,340.7 L10.3,340.9 L9.2,341.0 L8.3,341.1 L7.3,341.1 L6.4,341.1 L5.6,341.0 L4.9,340.8 L4.2,340.6 L3.5,340.3 L2.9,340.0 L2.4,339.6Z"/>
<path d="M45.3,298.0 L45.1,297.7 L44.9,297.3 L44.8,296.9 L44.8,296.5 L44.8,296.0 L44.8,295.4 L45.0,294.9 L45.1,294.3 L45.4,293.6 L45.7,292.9 L46.0,292.2 L46.4,291.5 L46.8,290.7 L47.3,289.9 L47.9,289.0 L48.5,288.2 L49.1,287.3 L49.8,286.4 L50.5,285.5 L51.3,284.6 L52.1,283.6 L52.9,282.7 L53.8,281.7 L54.7,280.8 L55.6,279.8 L56.6,278.9 L57.6,277.9 L58.6,277.0 L59.6,276.1 L60.7,275.1 L61.7,274.2 L62.8,273.4 L63.9,272.5 L65.0,271.6 L66.0,270.8 L67.1,270.0 L68.2,269.3 L69.2,268.5 L70.3,267.8 L71.3,267.2 L72.4,266.5 L73.4,266.0 L74.4,265.4 L75.3,264.9 L76.2,264.4 L77.1,264.0 L78.0,263.6 L78.9,263.3 L79.6,263.0 L80.4,262.8 L81.1,262.6 L81.8,262.5 L82.4,262.4 L83.0,262.3 L83.5,262.4 L84.0,262.4 L84.5,262.5 L84.8,262.7 L85.2,262.9 L85.4,263.2 L85.7,263.5 L85.8,263.8 L85.9,264.2 L86.0,264.7 L86.0,265.2 L85.9,265.7 L85.8,266.3 L85.6,266.9 L85.4,267.5 L85.1,268.2 L84.8,268.9 L84.4,269.7 L83.9,270.5 L83.4,271.3 L82.9,272.1 L82.3,273.0 L81.7,273.8 L81.0,274.7 L80.3,275.6 L79.5,276.6 L78.7,277.5 L77.8,278.5 L77.0,279.4 L76.1,280.4 L75.1,281.3 L74.2,282.3 L73.2,283.2 L72.2,284.2 L71.1,285.1 L70.1,286.0 L69.0,286.9 L68.0,287.8 L66.9,288.7 L65.8,289.5 L64.7,290.3 L63.7,291.1 L62.6,291.9 L61.5,292.6 L60.5,293.3 L59.4,294.0 L58.4,294.6 L57.4,295.2 L56.4,295.7 L55.5,296.3 L54.5,296.7 L53.6,297.1 L52.8,297.5 L51.9,297.8 L51.1,298.1 L50.4,298.4 L49.6,298.5 L49.0,298.7 L48.3,298.8 L47.8,298.8 L47.2,298.8 L46.7,298.7 L46.3,298.6 L45.9,298.4 L45.6,298.2Z"/>
</g>
<g clip-path="url(#c3)" fill="none" stroke="#000" stroke-linecap="round" stroke-width="1.8">
<path d="M88.9,222.1h0M90.8,221.3h0M88.3,226.4h0M80.6,229.7h0M79.4,230.6h0M85.1,230.0h0M78.7,233.2h0M88.3,233.6h0M90.2,233.2h0M94.0,233.2h0M85.1,235.7h0M122.3,208.0h0M120.7,211.5h0M124.5,212.1h0M125.1,214.4h0M118.8,217.0h0M126.4,217.0h0M128.7,218.5h0M133.2,217.9h0M117.5,220.0h0M118.8,221.7h0M120.7,222.6h0M123.2,223.3h0M116.8,223.9h0M125.8,226.8h0M129.0,227.7h0M115.6,228.4h0M111.1,231.0h0M108.8,235.3h0M137.9,217.0h0M140.2,218.5h0M144.3,219.1h0M137.9,220.4h0M140.4,220.4h0M144.9,221.7h0M137.2,222.3h0M141.1,223.0h0M136.0,224.0h0M138.5,223.6h0M145.5,225.9h0M144.3,227.4h0M136.2,229.7h0M145.5,230.2h0M146.8,231.0h0M144.0,232.3h0M152.5,229.6h0M142.3,219.8h0M139.4,222.1h0M53.2,254.3h0M53.9,256.9h0M55.1,258.8h0M57.7,259.4h0M60.2,257.5h0M61.5,255.6h0M59.6,253.0h0M57.0,252.4h0M54.5,253.0h0M55.1,251.1h0M59.0,251.8h0M52.8,255.6h0M56.4,259.8h0M60.9,256.5h0M54.5,250.9h0M58.7,247.9h0M64.3,244.8h0M67.9,246.7h0M70.4,248.3h0M74.9,247.9h0M76.8,244.8h0M76.8,242.8h0M78.7,233.3h0M84.5,235.6h0M85.1,237.7h0M88.3,233.5h0M90.8,233.0h0M95.3,235.2h0M95.9,239.0h0M94.0,240.9h0M97.8,240.9h0M92.7,245.4h0M98.5,246.0h0M101.7,248.6h0M104.9,243.2h0M90.8,250.5h0M94.0,251.1h0M88.9,252.4h0M98.5,251.8h0M87.0,255.6h0M88.3,254.7h0M99.1,253.7h0M101.0,256.9h0M103.6,258.1h0M83.2,257.5h0M86.4,260.7h0M92.7,261.6h0M98.5,262.0h0M102.9,262.6h0M104.9,262.6h0M87.6,266.4h0M88.3,269.6h0M90.8,272.2h0M95.9,270.9h0M99.8,272.8h0M85.1,273.4h0M88.3,273.4h0M74.9,251.8h0M75.5,253.0h0M73.0,254.3h0M69.8,255.6h0M67.9,256.9h0M66.6,258.8h0M64.7,260.1h0M62.8,261.3h0M80.0,255.0h0M81.3,254.7h0M78.7,255.6h0M76.8,258.1h0M75.5,258.8h0M78.1,259.4h0M80.0,260.7h0M76.8,261.3h0M74.3,262.0h0M71.7,262.6h0M69.8,263.9h0M67.9,265.8h0M67.2,267.7h0M67.9,269.6h0M69.8,270.9h0M72.3,271.5h0M74.3,272.2h0M76.8,270.9h0M79.4,272.2h0M81.3,273.4h0M81.9,262.6h0M83.8,263.2h0M85.7,264.5h0M70.4,266.4h0M73.0,269.0h0M68.5,264.5h0M69.2,267.1h0M71.1,270.3h0M78.1,272.8h0M80.0,274.1h0M82.5,274.7h0M74.3,263.2h0M76.2,262.6h0M144.0,232.6h0M109.2,235.6h0M107.9,240.3h0M141.4,240.7h0M129.0,241.9h0M132.1,242.2h0M132.1,244.1h0M137.9,246.7h0M124.1,247.9h0M133.4,250.5h0M119.4,255.2h0M128.7,255.8h0M124.5,259.4h0M114.3,259.8h0M120.3,264.5h0M111.1,266.4h0M110.5,269.0h0M109.2,272.8h0M107.3,273.4h0M106.0,253.7h0M106.0,243.5h0M131.5,243.2h0M107.3,266.2h0M106.6,264.5h0M110.0,263.4h0M103.5,264.3h0M103.5,265.9h0M102.4,268.9h0M100.8,269.7h0M99.1,270.0h0M95.8,269.2h0M93.1,268.4h0M89.3,268.7h0M92.6,271.9h0M90.4,275.8h0M89.8,276.8h0M87.1,277.4h0M86.5,283.4h0M87.1,267.6h0M87.1,269.2h0M87.1,270.8h0M98.0,262.6h0M100.2,262.3h0M94.7,261.5h0M90.9,261.5h0M96.9,269.5h0M96.4,268.9h0M89.1,276.3h0M61.5,283.1h0M64.1,282.2h0M66.6,281.5h0M69.2,280.9h0M71.7,280.2h0M74.3,279.3h0M76.8,286.9h0M83.8,286.9h0M80.6,289.5h0M76.8,290.8h0M71.1,290.8h0M72.3,293.3h0M69.8,295.9h0M86.4,292.7h0M71.7,285.7h0M66.6,286.9h0M66.6,290.1h0M64.7,294.6h0M63.4,297.1h0M67.9,271.6h0M70.4,272.3h0M73.0,271.6h0M74.3,272.9h0M79.4,272.9h0M80.6,274.2h0M83.2,276.1h0M85.1,273.6h0M87.0,272.3h0M88.3,275.5h0M90.8,271.6h0M95.3,276.1h0M99.8,272.9h0M102.3,272.3h0M104.9,272.9h0M41.7,310.5h0M43.0,310.3h0M44.3,309.9h0M47.5,305.4h0M48.8,305.2h0M50.3,305.4h0M51.6,304.9h0M53.2,305.2h0M54.9,304.8h0M56.4,304.7h0M49.4,304.4h0M77.3,279.7h0M76.1,275.7h0M76.8,274.3h0M77.7,279.9h0M77.3,274.0h0M78.0,277.1h0M77.2,278.7h0M77.0,276.7h0M77.0,274.2h0M77.0,278.2h0M86.2,282.8h0M79.4,280.5h0M91.4,283.0h0M81.3,280.9h0M83.2,282.3h0M80.8,280.7h0M82.2,281.5h0M85.9,282.5h0M78.5,280.9h0M89.0,283.1h0M88.2,283.5h0M78.9,280.3h0M81.3,281.9h0M82.7,281.0h0M82.0,281.8h0M81.9,281.9h0M80.8,280.9h0M80.5,281.2h0M81.5,281.6h0M86.4,284.0h0M91.2,283.7h0M88.4,283.3h0M91.3,282.7h0M91.8,282.6h0M92.5,283.2h0M93.1,283.7h0M91.9,283.0h0M90.7,283.0h0M45.8,299.8h0M46.7,298.9h0M43.4,300.9h0M49.7,297.7h0M42.1,301.1h0M47.0,298.8h0M48.6,298.1h0M42.4,300.8h0M52.9,296.4h0M51.0,297.1h0M47.1,298.6h0M43.7,300.3h0M50.2,297.5h0M46.4,298.4h0M46.8,299.0h0M47.6,299.5h0M48.2,298.2h0M46.2,299.1h0M50.0,297.8h0M44.9,299.5h0M50.7,296.9h0M51.6,296.9h0M46.3,299.9h0M41.7,300.5h0M41.7,300.8h0M47.9,297.9h0M58.3,296.9h0M62.3,288.9h0M62.0,294.4h0M56.7,290.5h0M59.9,288.7h0M59.2,291.9h0M64.9,295.3h0M57.7,296.6h0M60.7,294.5h0M58.7,298.6h0M56.8,293.2h0M56.9,291.8h0M54.9,297.4h0M57.8,293.6h0M56.9,291.1h0M59.6,289.8h0M54.9,297.1h0M57.1,298.1h0M56.2,294.5h0M55.3,295.7h0M61.5,290.5h0M57.9,291.3h0M59.0,296.9h0M60.5,294.4h0M65.7,288.6h0M64.5,289.5h0M64.1,288.9h0M66.4,287.2h0M67.9,286.0h0M55.5,294.2h0M58.6,290.2h0M61.0,292.2h0M55.9,290.4h0M58.9,292.3h0M59.0,296.6h0M64.5,291.0h0M61.3,292.9h0M60.5,287.5h0M52.5,292.6h0M57.4,296.9h0M59.7,294.1h0M57.4,299.6h0M61.8,291.8h0M55.0,291.2h0M58.3,297.0h0M68.3,284.6h0M60.4,291.4h0M58.6,294.7h0M61.3,286.6h0M66.0,287.9h0M66.9,286.4h0M64.4,289.8h0M61.2,289.2h0M59.0,290.0h0M55.8,294.6h0M61.8,287.9h0M53.3,297.9h0M58.6,293.2h0M62.2,288.5h0M59.1,293.5h0M55.5,297.4h0M60.0,291.2h0M53.9,297.9h0M61.2,288.3h0M55.4,295.0h0M54.3,296.3h0M62.9,287.9h0M56.4,294.6h0M56.0,291.4h0M64.1,296.9h0M62.6,297.3h0M61.8,295.9h0M62.4,297.2h0M62.4,296.2h0M54.5,291.0h0M57.3,292.2h0M56.3,291.7h0M62.2,297.8h0M55.1,292.4h0M57.3,293.6h0"/>
</g>
<g fill="none" stroke="#000" stroke-width="0.52">
<rect x="36.7" y="193.2" width="139.30" height="122.20"/>
<path d="M42.40,315.4v3.3M65.42,315.4v3.3M88.44,315.4v3.3M111.46,315.4v3.3M134.48,315.4v3.3M157.50,315.4v3.3M36.7,299.25h-3.4M36.7,280.05h-3.4M36.7,260.85h-3.4M36.7,241.65h-3.4M36.7,222.45h-3.4M36.7,203.25h-3.4"/>
</g>
<g font-family='"Liberation Sans", Arial, Helvetica, sans-serif' font-size="10px" fill="#000" stroke="#000" stroke-width="0.22">
<text x="42.40" y="329.9" text-anchor="middle" font-size="9.6px" stroke-width="0.16">2</text>
<text x="65.42" y="329.9" text-anchor="middle" font-size="9.6px" stroke-width="0.16">4</text>
<text x="88.44" y="329.9" text-anchor="middle" font-size="9.6px" stroke-width="0.16">6</text>
<text x="111.46" y="329.9" text-anchor="middle" font-size="9.6px" stroke-width="0.16">8</text>
<text x="135.68" y="329.9" text-anchor="middle" font-size="9.6px" stroke-width="0.16">10</text>
<text x="158.70" y="329.9" text-anchor="middle" font-size="9.6px" stroke-width="0.16">12</text>
<text x="29.3" y="302.65" text-anchor="end" font-size="9.6px" stroke-width="0.16">0.5</text>
<text x="29.3" y="283.45" text-anchor="end" font-size="9.6px" stroke-width="0.16">1.0</text>
<text x="29.3" y="264.25" text-anchor="end" font-size="9.6px" stroke-width="0.16">1.5</text>
<text x="29.3" y="245.05" text-anchor="end" font-size="9.6px" stroke-width="0.16">2.0</text>
<text x="29.3" y="225.85" text-anchor="end" font-size="9.6px" stroke-width="0.16">2.5</text>
<text x="29.3" y="206.65" text-anchor="end" font-size="9.6px" stroke-width="0.16">3.0</text>
<text x="106.3" y="345.7" text-anchor="middle">Wind Speed [m/s]</text>
<text transform="translate(6.9,255.3) rotate(-90)" text-anchor="middle">Wave Height [m]</text>
<text x="106.3" y="189.1" text-anchor="middle" font-weight="bold" font-size="9.8px" stroke-width="0.1">Linear</text>
</g>
<clipPath id="c4"><rect x="224.4" y="193.5" width="139.60" height="121.70"/></clipPath>
<g clip-path="url(#c4)" fill="none" stroke="#000" stroke-width="0.5">
<path d="M214.8,330.7 L214.5,330.4 L214.3,329.9 L214.1,329.5 L214.0,329.0 L213.9,328.5 L213.9,327.9 L213.9,327.3 L214.0,326.7 L214.1,326.0 L214.2,325.3 L214.5,324.5 L214.7,323.8 L215.0,322.9 L215.4,322.1 L215.8,321.2 L216.2,320.3 L216.7,319.3 L217.2,318.3 L217.8,317.3 L218.5,316.3 L219.1,315.2 L219.9,314.1 L220.6,313.0 L221.4,311.8 L222.3,310.6 L223.2,309.4 L224.1,308.2 L225.1,306.9 L226.1,305.6 L227.1,304.3 L228.2,303.0 L229.4,301.6 L230.5,300.2 L231.7,298.9 L233.0,297.5 L234.3,296.0 L235.6,294.6 L236.9,293.1 L238.3,291.7 L239.7,290.2 L241.1,288.7 L242.6,287.2 L244.1,285.7 L245.6,284.2 L247.2,282.6 L248.7,281.1 L250.3,279.5 L252.0,278.0 L253.6,276.4 L255.3,274.9 L256.9,273.3 L258.6,271.8 L260.4,270.2 L262.1,268.7 L263.9,267.1 L265.6,265.6 L267.4,264.0 L269.2,262.5 L271.0,261.0 L272.8,259.5 L274.6,258.0 L276.4,256.5 L278.3,255.0 L280.1,253.5 L281.9,252.0 L283.8,250.6 L285.6,249.1 L287.4,247.7 L289.3,246.3 L291.1,244.9 L292.9,243.6 L294.7,242.2 L296.5,240.9 L298.3,239.6 L300.1,238.3 L301.9,237.1 L303.7,235.9 L305.4,234.7 L307.2,233.5 L308.9,232.3 L310.6,231.2 L312.3,230.1 L314.0,229.1 L315.6,228.0 L317.2,227.0 L318.8,226.0 L320.4,225.1 L322.0,224.2 L323.5,223.3 L325.0,222.5 L326.5,221.7 L327.9,220.9 L329.4,220.2 L330.7,219.5 L332.1,218.8 L333.4,218.2 L334.7,217.6 L335.9,217.1 L337.2,216.5 L338.3,216.1 L339.5,215.6 L340.6,215.2 L341.6,214.9 L342.7,214.6 L343.7,214.3 L344.6,214.1 L345.5,213.9 L346.4,213.7 L347.2,213.6 L348.0,213.5 L348.7,213.5 L349.4,213.5 L350.0,213.6 L350.6,213.6 L351.2,213.8 L351.7,213.9 L352.1,214.2 L352.5,214.4 L352.9,214.7 L353.2,215.0 L353.5,215.4 L353.7,215.8 L353.9,216.3 L354.0,216.7 L354.1,217.3 L354.1,217.8 L354.1,218.4 L354.0,219.1 L353.9,219.8 L353.8,220.5 L353.5,221.2 L353.3,222.0 L353.0,222.8 L352.6,223.7 L352.2,224.6 L351.8,225.5 L351.3,226.4 L350.8,227.4 L350.2,228.4 L349.5,229.5 L348.9,230.6 L348.2,231.7 L347.4,232.8 L346.6,234.0 L345.7,235.1 L344.8,236.4 L343.9,237.6 L342.9,238.9 L341.9,240.1 L340.9,241.5 L339.8,242.8 L338.6,244.1 L337.5,245.5 L336.3,246.9 L335.0,248.3 L333.8,249.7 L332.4,251.2 L331.1,252.6 L329.7,254.1 L328.3,255.6 L326.9,257.1 L325.4,258.6 L323.9,260.1 L322.4,261.6 L320.8,263.1 L319.3,264.7 L317.7,266.2 L316.1,267.8 L314.4,269.3 L312.7,270.9 L311.1,272.4 L309.4,274.0 L307.6,275.5 L305.9,277.1 L304.2,278.6 L302.4,280.2 L300.6,281.7 L298.8,283.2 L297.0,284.8 L295.2,286.3 L293.4,287.8 L291.6,289.3 L289.8,290.8 L287.9,292.3 L286.1,293.7 L284.3,295.2 L282.4,296.6 L280.6,298.0 L278.7,299.4 L276.9,300.8 L275.1,302.2 L273.3,303.5 L271.5,304.8 L269.7,306.1 L267.9,307.4 L266.1,308.7 L264.3,309.9 L262.6,311.1 L260.8,312.3 L259.1,313.4 L257.4,314.5 L255.7,315.6 L254.0,316.7 L252.4,317.7 L250.8,318.7 L249.2,319.7 L247.6,320.6 L246.0,321.6 L244.5,322.4 L243.0,323.3 L241.5,324.1 L240.1,324.8 L238.7,325.6 L237.3,326.3 L235.9,326.9 L234.6,327.6 L233.3,328.2 L232.1,328.7 L230.9,329.2 L229.7,329.7 L228.5,330.1 L227.4,330.5 L226.4,330.9 L225.3,331.2 L224.4,331.5 L223.4,331.7 L222.5,331.9 L221.6,332.0 L220.8,332.2 L220.1,332.2 L219.3,332.3 L218.6,332.3 L218.0,332.2 L217.4,332.1 L216.8,332.0 L216.3,331.8 L215.9,331.6 L215.5,331.4 L215.1,331.1Z"/>
<path d="M301.2,265.0 L301.3,265.3 L301.3,265.6 L301.3,266.0 L301.2,266.4 L301.0,266.9 L300.8,267.4 L300.4,267.9 L300.0,268.5 L299.5,269.1 L299.0,269.8 L298.4,270.5 L297.7,271.2 L296.9,272.0 L296.1,272.8 L295.2,273.6 L294.3,274.5 L293.3,275.3 L292.2,276.2 L291.1,277.2 L290.0,278.1 L288.8,279.0 L287.5,280.0 L286.3,280.9 L285.0,281.9 L283.6,282.9 L282.2,283.9 L280.8,284.8 L279.4,285.8 L278.0,286.7 L276.5,287.7 L275.1,288.6 L273.6,289.5 L272.2,290.5 L270.7,291.3 L269.3,292.2 L267.8,293.0 L266.4,293.8 L265.0,294.6 L263.7,295.3 L262.3,296.1 L261.0,296.7 L259.7,297.4 L258.5,298.0 L257.2,298.5 L256.1,299.0 L255.0,299.5 L253.9,299.9 L252.9,300.3 L251.9,300.6 L251.1,300.9 L250.2,301.1 L249.5,301.3 L248.8,301.5 L248.1,301.5 L247.6,301.6 L247.1,301.6 L246.6,301.5 L246.3,301.4 L246.0,301.2 L245.8,301.0 L245.7,300.7 L245.7,300.4 L245.7,300.0 L245.8,299.6 L246.0,299.1 L246.2,298.6 L246.6,298.1 L247.0,297.5 L247.5,296.9 L248.0,296.2 L248.6,295.5 L249.3,294.8 L250.1,294.0 L250.9,293.2 L251.8,292.4 L252.7,291.5 L253.7,290.7 L254.8,289.8 L255.9,288.8 L257.0,287.9 L258.2,287.0 L259.5,286.0 L260.7,285.1 L262.0,284.1 L263.4,283.1 L264.8,282.1 L266.2,281.2 L267.6,280.2 L269.0,279.3 L270.5,278.3 L271.9,277.4 L273.4,276.5 L274.8,275.5 L276.3,274.7 L277.7,273.8 L279.2,273.0 L280.6,272.2 L282.0,271.4 L283.3,270.7 L284.7,269.9 L286.0,269.3 L287.3,268.6 L288.5,268.0 L289.8,267.5 L290.9,267.0 L292.0,266.5 L293.1,266.1 L294.1,265.7 L295.1,265.4 L295.9,265.1 L296.8,264.9 L297.5,264.7 L298.2,264.5 L298.9,264.5 L299.4,264.4 L299.9,264.4 L300.4,264.5 L300.7,264.6 L301.0,264.8Z"/>
</g>
<g clip-path="url(#c4)" fill="none" stroke="#000" stroke-linecap="round" stroke-width="1.8">
<path d="M344.8,198.1h0M349.9,198.7h0M338.8,204.7h0M353.5,205.4h0M347.1,209.6h0M343.9,211.5h0M339.5,211.5h0M353.5,210.9h0M354.8,210.9h0M356.7,214.0h0M357.9,215.3h0M356.7,216.6h0M358.6,213.4h0M354.8,221.3h0M352.2,225.9h0M347.7,230.0h0M323.5,220.8h0M315.2,223.3h0M310.8,222.6h0M316.5,226.8h0M340.1,226.2h0M328.0,225.9h0M322.2,225.9h0M329.3,228.1h0M304.4,226.4h0M306.9,226.8h0M303.1,229.3h0M300.6,231.3h0M310.8,230.6h0M315.2,230.0h0M314.6,231.9h0M318.4,232.5h0M322.9,232.5h0M296.1,235.1h0M310.8,234.4h0M314.0,235.1h0M322.9,235.7h0M331.8,236.4h0M336.3,234.1h0M344.6,234.8h0M332.4,214.4h0M334.1,213.3h0M335.6,212.4h0M334.3,212.6h0M333.8,213.6h0M335.9,211.7h0M332.3,213.3h0M332.6,213.3h0M333.9,213.1h0M334.7,226.3h0M338.3,224.7h0M338.7,225.2h0M336.2,225.5h0M336.7,224.6h0M338.8,223.8h0M336.9,225.2h0M334.5,226.7h0M336.5,225.6h0M336.4,224.5h0M333.9,226.7h0M338.7,224.6h0M328.5,228.7h0M326.0,228.8h0M324.3,228.3h0M321.3,229.0h0M326.1,229.2h0M328.7,228.6h0M320.7,229.0h0M325.0,229.6h0M327.4,227.6h0M326.2,229.8h0M305.0,221.6h0M308.6,221.6h0M309.3,224.5h0M315.2,220.8h0M318.1,225.2h0M320.3,224.5h0M325.4,223.7h0M328.3,222.3h0M329.7,223.7h0M326.1,231.8h0M319.5,233.2h0M322.5,237.6h0M326.8,236.1h0M329.7,235.4h0M313.7,228.8h0M310.8,230.3h0M307.2,231.8h0M309.3,234.7h0M313.7,233.2h0M305.0,228.1h0M280.2,237.6h0M282.4,238.3h0M284.6,239.0h0M318.1,257.3h0M319.5,257.6h0M272.8,291.4h0M248.0,302.6h0M274.1,291.0h0M260.9,298.2h0M260.6,297.7h0M262.5,295.9h0M263.7,296.2h0M241.0,304.5h0M287.5,285.0h0M288.3,284.7h0M233.0,309.4h0M283.1,286.3h0M269.2,293.4h0M249.6,302.1h0M243.9,303.0h0M267.0,294.3h0M239.4,304.5h0M233.2,309.6h0M245.7,303.6h0M257.2,298.8h0M285.0,287.0h0M242.3,303.9h0M258.2,299.5h0M281.6,287.5h0M284.3,286.7h0M254.6,301.3h0M250.8,302.5h0M235.2,307.3h0M285.8,285.7h0M270.8,293.5h0M252.1,302.0h0M273.2,291.4h0M279.7,288.1h0M271.4,292.6h0M243.5,303.3h0M276.0,290.8h0M259.8,298.4h0M274.1,291.2h0M269.7,293.7h0M276.9,289.7h0M269.5,293.9h0M287.8,284.9h0M288.3,283.8h0M248.5,302.7h0M238.6,305.1h0M260.8,296.6h0M257.3,299.1h0M271.0,293.5h0M246.1,303.4h0M243.6,303.5h0M279.6,288.5h0M251.5,301.9h0M268.7,294.3h0M287.7,284.9h0M233.6,307.5h0M237.7,305.1h0M232.2,309.1h0M258.2,299.2h0M285.7,285.0h0M279.3,288.7h0M237.1,305.1h0M259.8,298.7h0M278.1,288.5h0M263.2,296.2h0M246.9,302.6h0M264.6,295.8h0M262.1,297.0h0M285.4,286.3h0M283.9,285.9h0M274.5,291.7h0M259.7,298.1h0M281.7,287.4h0M284.2,286.9h0M266.4,295.1h0M267.0,294.8h0M261.2,297.7h0M267.0,294.1h0M237.4,304.6h0M241.1,304.0h0M249.9,301.7h0M264.4,295.8h0M253.0,301.6h0M287.0,285.1h0M278.6,288.9h0M237.6,304.9h0M282.4,286.8h0M261.2,298.5h0M276.7,288.9h0M279.6,288.3h0M254.8,300.7h0M273.5,291.9h0M265.9,295.5h0M268.1,294.3h0M239.8,303.8h0M240.9,304.5h0M250.4,302.1h0M265.9,296.0h0M267.4,294.4h0M265.6,295.1h0M236.2,305.3h0M243.3,304.3h0M277.9,289.3h0M268.5,293.9h0M271.3,292.2h0M278.7,289.5h0M288.2,285.8h0M249.5,302.8h0M275.4,290.5h0M243.6,303.1h0M248.7,301.3h0M300.0,277.0h0M300.7,274.6h0M299.3,276.6h0M292.6,281.0h0M294.3,281.2h0M300.7,276.0h0M291.2,283.3h0M295.4,280.1h0M295.9,279.8h0M290.5,282.8h0M299.3,277.8h0M290.8,283.0h0M300.4,276.3h0M301.1,275.7h0M231.8,297.8h0M235.0,295.9h0M240.1,294.6h0M252.9,286.9h0M255.2,285.0h0M257.3,283.1h0M259.9,281.2h0M262.1,278.9h0M264.4,277.1h0M266.9,274.8h0M247.9,291.6h0M247.4,294.9h0M245.5,293.3h0M246.9,291.9h0M248.9,294.6h0M248.7,293.4h0M245.5,295.2h0M245.1,293.6h0M246.0,292.5h0M246.9,294.8h0M246.4,291.8h0M247.4,295.7h0M246.4,291.8h0M245.0,294.5h0M248.6,294.1h0M245.7,291.9h0M255.7,287.4h0M280.6,275.5h0M270.3,278.7h0M257.6,292.5h0M280.0,266.2h0M287.0,277.4h0M249.7,288.8h0M293.7,270.4h0M290.3,274.5h0M257.5,283.4h0M263.3,290.7h0M271.0,287.7h0M253.9,293.7h0M281.5,265.9h0M274.3,279.4h0M283.1,279.5h0M282.1,269.3h0M263.3,281.6h0M266.5,289.5h0M283.6,263.8h0M274.8,277.4h0M264.4,279.2h0M280.4,265.7h0M271.6,274.6h0M275.4,277.8h0M251.1,290.4h0M279.8,278.8h0M287.0,269.0h0M289.2,275.8h0M293.3,272.2h0M291.2,265.7h0M275.6,272.7h0M267.0,278.0h0M267.3,280.9h0M277.0,280.6h0M280.4,271.0h0M270.8,277.5h0M276.3,271.9h0M271.0,287.3h0M254.6,289.1h0M279.5,280.5h0M275.3,280.4h0M296.8,269.8h0M257.2,292.4h0M278.8,270.1h0M286.8,267.6h0M264.5,291.1h0M285.7,268.0h0M283.5,275.2h0M275.0,270.8h0M276.5,276.0h0M259.8,280.5h0M276.9,268.4h0M254.2,291.3h0M264.5,291.3h0M291.8,267.6h0M255.0,295.6h0M295.1,269.1h0M278.4,282.7h0M268.1,281.9h0M270.7,274.9h0M268.6,286.9h0M257.5,291.0h0M281.2,274.5h0M268.9,275.1h0M272.2,282.5h0M268.8,275.0h0M263.2,292.9h0M287.8,267.9h0M280.5,270.4h0M295.3,267.9h0M283.6,267.8h0M276.5,282.4h0M258.0,287.9h0M275.5,273.0h0M270.3,277.0h0M285.7,267.0h0M249.7,292.5h0M283.2,269.5h0M279.7,274.0h0M283.1,264.3h0M288.9,274.9h0M255.5,286.7h0M279.7,271.0h0M285.5,267.1h0M290.9,272.4h0M260.0,287.2h0M280.0,276.9h0M255.6,298.6h0M286.1,266.7h0M273.8,275.7h0M281.5,266.2h0M279.3,267.2h0M253.3,290.2h0M286.9,263.8h0M279.7,281.2h0M263.5,278.6h0M253.3,296.3h0M255.3,297.9h0M263.4,294.1h0M280.7,272.8h0M271.7,274.4h0M275.7,271.8h0M268.9,274.2h0M283.7,267.3h0M280.8,278.3h0M282.7,278.4h0M271.7,279.5h0M257.5,294.6h0M268.6,281.4h0M280.5,271.9h0M254.9,296.8h0M280.4,270.5h0M281.0,268.6h0M259.3,292.0h0M259.5,284.3h0M252.1,289.7h0M263.4,287.5h0M253.7,292.1h0M269.2,284.2h0M288.4,260.0h0M284.7,278.2h0M254.1,285.7h0M280.2,277.4h0M282.4,265.1h0M275.8,275.5h0M283.3,265.9h0M250.1,290.6h0M273.5,277.8h0M291.6,270.7h0M284.6,268.4h0M271.8,279.0h0M265.9,277.8h0M294.7,269.9h0M268.1,286.0h0M259.2,288.2h0M271.1,288.0h0M279.5,275.9h0M270.9,280.0h0M269.5,274.2h0M278.0,269.9h0M260.2,288.1h0M256.5,290.6h0M249.6,288.8h0M267.2,278.2h0M284.4,279.4h0M285.9,265.5h0M268.0,281.4h0M265.3,291.3h0M253.8,288.4h0M267.2,281.2h0M293.5,269.9h0M280.6,281.9h0M287.8,265.5h0M273.2,284.1h0M286.8,272.3h0M252.8,289.6h0M278.4,271.6h0M281.0,281.4h0M282.9,268.5h0M303.8,251.2h0M319.1,251.7h0M315.7,253.8h0M305.3,261.2h0M294.5,259.4h0M303.8,263.4h0M296.4,266.8h0M308.0,242.8h0M304.3,254.5h0M307.3,247.1h0M306.7,260.1h0M318.2,248.5h0M305.3,258.4h0M309.8,251.5h0M293.3,260.4h0M304.4,264.3h0M311.1,253.1h0M298.0,268.7h0M293.5,272.6h0M316.8,245.8h0M305.4,254.0h0M306.9,258.7h0M304.0,256.5h0M320.4,248.5h0M301.0,263.6h0M307.2,251.3h0M287.9,267.2h0M312.1,245.4h0M288.1,266.0h0M301.0,255.5h0M290.9,271.5h0M297.1,268.2h0M306.9,252.2h0M301.4,264.9h0M286.8,260.2h0M311.8,239.2h0M319.9,248.4h0M296.3,266.7h0M292.6,274.0h0M291.2,272.6h0M309.7,251.9h0M312.5,247.8h0M290.9,264.7h0M292.5,255.9h0M309.8,257.5h0M292.8,272.6h0M292.1,257.4h0M318.5,244.3h0M293.6,257.7h0M289.3,267.7h0M288.0,261.3h0M307.4,259.2h0M284.1,266.2h0M294.0,258.4h0M302.3,262.8h0M290.3,257.7h0M307.6,246.6h0M298.9,261.6h0M310.6,250.2h0M305.6,255.8h0M295.7,265.5h0M299.5,265.9h0M314.6,243.1h0M292.5,257.5h0M306.7,256.1h0M297.9,256.3h0M291.4,272.1h0M302.5,249.8h0M298.1,252.9h0M312.3,238.7h0M318.9,243.6h0M319.4,247.0h0M289.1,267.5h0M319.5,248.1h0M318.1,252.6h0M307.8,259.9h0M293.5,261.3h0M316.2,245.8h0M292.7,265.8h0M290.8,263.5h0M313.7,243.4h0M293.8,270.2h0M290.8,259.8h0M296.7,261.5h0M297.3,260.0h0M291.4,274.9h0M297.4,270.4h0M297.2,264.4h0M297.4,262.6h0M312.3,240.0h0M308.3,255.9h0M289.4,270.4h0M288.6,262.0h0M313.1,254.1h0M299.4,265.5h0M293.7,254.2h0M294.7,262.1h0M301.4,253.6h0M299.3,250.5h0M287.3,264.4h0M297.4,260.5h0M304.6,245.9h0M310.7,242.4h0M302.9,253.5h0M316.8,250.8h0M319.6,244.6h0M299.3,265.8h0M315.1,241.7h0M314.9,237.1h0M303.3,250.4h0M292.5,258.7h0M301.2,249.3h0M320.3,250.3h0M306.5,249.5h0M291.0,261.8h0M305.1,260.3h0M300.5,253.2h0M283.9,265.9h0M312.6,250.6h0M305.4,262.0h0M303.9,257.5h0M304.9,253.0h0M281.7,264.3h0M293.8,270.4h0M309.9,254.4h0M305.2,256.0h0M286.1,264.6h0M319.1,243.0h0M315.9,238.6h0M306.8,246.0h0M291.6,260.9h0M284.7,267.4h0M300.1,252.8h0M297.5,267.4h0M289.8,273.7h0M298.3,256.8h0M286.9,265.2h0M285.9,266.5h0M292.5,262.2h0M305.7,259.0h0M311.1,258.5h0M296.4,270.5h0M307.2,249.1h0M288.6,271.1h0M292.8,256.6h0M293.1,261.7h0M289.8,267.3h0M316.9,241.2h0M300.5,260.4h0M320.3,247.7h0M292.3,272.1h0M307.9,253.9h0M303.7,246.8h0M298.5,264.0h0M300.6,260.3h0M309.5,259.6h0M292.8,259.4h0M284.7,263.7h0M286.7,268.2h0M287.8,263.9h0M329.2,235.5h0M335.9,227.6h0M332.2,229.6h0M336.1,227.5h0M316.9,238.1h0M318.6,233.8h0M326.7,230.4h0M322.9,231.0h0M324.2,229.7h0M330.9,231.2h0M327.1,230.0h0M310.5,239.2h0M329.5,229.3h0M319.8,234.7h0M332.3,228.3h0M333.3,228.0h0M334.2,229.1h0M312.5,240.2h0M315.3,243.6h0M315.0,237.2h0M322.0,235.1h0M317.4,235.7h0M293.8,247.8h0M294.5,244.2h0M299.6,241.4h0M298.7,243.1h0M294.7,245.2h0M300.2,249.6h0M300.5,241.1h0M300.5,239.7h0M296.4,237.8h0M299.5,243.5h0M302.4,245.5h0M296.4,244.7h0M299.7,241.6h0M295.6,243.5h0M291.6,238.8h0M297.6,242.9h0M295.9,248.6h0M298.0,246.2h0M298.2,243.4h0M296.2,240.0h0M297.4,242.3h0M299.5,241.7h0M281.6,262.1h0M279.1,259.4h0M283.8,261.0h0M283.0,262.3h0M284.6,269.4h0M283.6,259.6h0M287.0,263.2h0M283.4,266.6h0M278.8,263.0h0M282.9,263.0h0M285.0,263.0h0M286.2,259.9h0M282.4,264.9h0M284.0,260.9h0M281.1,262.0h0M280.6,266.5h0M291.9,263.9h0M281.9,265.2h0M279.6,264.0h0M283.7,265.0h0M282.6,262.8h0M287.4,261.6h0M288.4,261.3h0M283.9,266.8h0M283.2,262.2h0M282.3,259.7h0M288.1,263.3h0M281.0,260.6h0M284.2,264.9h0M286.1,263.5h0M274.3,279.2h0M275.9,272.5h0M276.3,276.4h0M277.7,274.3h0M276.8,270.9h0M277.6,274.0h0M279.0,274.7h0M279.2,265.0h0M277.4,273.6h0M279.4,270.1h0M273.8,266.7h0M274.9,266.6h0M276.7,275.5h0M274.4,269.4h0M275.4,268.1h0M279.7,268.3h0M279.0,270.6h0M273.5,270.5h0M275.8,266.9h0M274.8,274.2h0M276.8,262.1h0M278.7,273.5h0M277.7,281.8h0M272.2,272.4h0M278.8,264.9h0M278.7,270.7h0M273.9,277.3h0M278.5,268.1h0M276.8,267.0h0M282.9,267.2h0M304.3,255.8h0M306.9,257.8h0M304.7,259.3h0M303.8,259.7h0M307.6,263.2h0M299.5,257.5h0M305.9,258.2h0M306.8,257.1h0M306.1,253.8h0M301.7,252.1h0M305.3,258.6h0M307.1,257.8h0M305.1,255.2h0M306.8,258.1h0M304.5,262.5h0M301.6,258.1h0M304.2,258.5h0M304.9,259.4h0M301.0,257.1h0M302.3,257.1h0M301.2,258.7h0M304.8,261.8h0M300.5,253.4h0M303.5,256.4h0M300.2,253.3h0M302.8,258.5h0M304.7,256.6h0M307.2,260.7h0M293.5,250.4h0M294.0,250.3h0M296.4,247.5h0M291.4,249.7h0M292.7,248.6h0M287.5,249.5h0M295.7,249.0h0M293.5,251.4h0M292.4,249.2h0M291.8,253.0h0M293.1,250.5h0M291.5,250.3h0M295.3,252.5h0M292.8,250.6h0M295.6,253.0h0M293.6,248.6h0M286.3,247.6h0M291.6,250.7h0M291.3,248.6h0M294.6,249.8h0M290.1,247.8h0M293.7,249.1h0M293.1,250.6h0M292.5,250.0h0M293.1,247.6h0M319.9,258.6h0M318.1,259.4h0M318.3,259.7h0M318.0,264.2h0M316.2,259.7h0M317.9,256.5h0M319.4,262.4h0M318.0,262.3h0M316.3,259.6h0M317.1,256.4h0M317.4,257.5h0M319.4,262.9h0M320.3,262.9h0M318.6,258.0h0M321.5,262.7h0M317.5,259.2h0M320.2,259.5h0M317.0,260.5h0M315.9,264.7h0M319.9,257.1h0M321.0,262.5h0M321.3,260.0h0M319.2,248.7h0M326.0,249.6h0M320.2,249.4h0M318.4,249.3h0M322.5,249.0h0M325.8,248.5h0M324.5,250.7h0M325.6,250.5h0M317.8,248.1h0M322.4,248.6h0M324.6,247.5h0M323.6,249.4h0M323.0,251.3h0M317.5,249.0h0M322.9,250.1h0M318.9,249.1h0"/>
</g>
<g fill="none" stroke="#000" stroke-width="0.52">
<rect x="224.4" y="193.5" width="139.60" height="121.70"/>
<path d="M230.70,315.2v3.3M253.72,315.2v3.3M276.74,315.2v3.3M299.76,315.2v3.3M322.78,315.2v3.3M345.80,315.2v3.3M224.4,299.25h-3.4M224.4,280.05h-3.4M224.4,260.85h-3.4M224.4,241.65h-3.4M224.4,222.45h-3.4M224.4,203.25h-3.4"/>
</g>
<g font-family='"Liberation Sans", Arial, Helvetica, sans-serif' font-size="10px" fill="#000" stroke="#000" stroke-width="0.22">
<text x="230.70" y="329.9" text-anchor="middle" font-size="9.6px" stroke-width="0.16">2</text>
<text x="253.72" y="329.9" text-anchor="middle" font-size="9.6px" stroke-width="0.16">4</text>
<text x="276.74" y="329.9" text-anchor="middle" font-size="9.6px" stroke-width="0.16">6</text>
<text x="299.76" y="329.9" text-anchor="middle" font-size="9.6px" stroke-width="0.16">8</text>
<text x="323.98" y="329.9" text-anchor="middle" font-size="9.6px" stroke-width="0.16">10</text>
<text x="347.00" y="329.9" text-anchor="middle" font-size="9.6px" stroke-width="0.16">12</text>
<text x="218.2" y="302.65" text-anchor="end" font-size="9.6px" stroke-width="0.16">0.5</text>
<text x="218.2" y="283.45" text-anchor="end" font-size="9.6px" stroke-width="0.16">1.0</text>
<text x="218.2" y="264.25" text-anchor="end" font-size="9.6px" stroke-width="0.16">1.5</text>
<text x="218.2" y="245.05" text-anchor="end" font-size="9.6px" stroke-width="0.16">2.0</text>
<text x="218.2" y="225.85" text-anchor="end" font-size="9.6px" stroke-width="0.16">2.5</text>
<text x="218.2" y="206.65" text-anchor="end" font-size="9.6px" stroke-width="0.16">3.0</text>
<text x="291.1" y="345.7" text-anchor="middle">Wind Speed [m/s]</text>
<text transform="translate(196.1,255.3) rotate(-90)" text-anchor="middle">Wave Height [m]</text>
<text x="291.1" y="189.1" text-anchor="middle" font-weight="bold" font-size="9.8px" stroke-width="0.1">Linear</text>
</g>
<clipPath id="c5"><rect x="409.2" y="193.5" width="139.40" height="121.70"/></clipPath>
<g clip-path="url(#c5)" fill="none" stroke="#000" stroke-width="0.5">
<path d="M393.7,327.3 L393.6,327.1 L393.5,326.8 L393.5,326.6 L393.6,326.2 L393.7,325.9 L393.8,325.6 L394.0,325.2 L394.2,324.8 L394.5,324.4 L394.8,323.9 L395.1,323.5 L395.5,323.0 L396.0,322.5 L396.5,322.0 L397.0,321.4 L397.6,320.9 L398.2,320.3 L398.8,319.7 L399.5,319.1 L400.3,318.4 L401.1,317.8 L401.9,317.1 L402.8,316.4 L403.7,315.7 L404.6,315.0 L405.6,314.3 L406.6,313.5 L407.6,312.8 L408.7,312.0 L409.8,311.2 L411.0,310.4 L412.2,309.6 L413.4,308.8 L414.7,308.0 L415.9,307.2 L417.3,306.3 L418.6,305.4 L420.0,304.6 L421.4,303.7 L422.8,302.8 L424.2,301.9 L425.7,301.1 L427.2,300.2 L428.7,299.3 L430.3,298.4 L431.8,297.4 L433.4,296.5 L435.0,295.6 L436.6,294.7 L438.3,293.8 L439.9,292.9 L441.6,292.0 L443.2,291.0 L444.9,290.1 L446.6,289.2 L448.3,288.3 L450.0,287.4 L451.7,286.5 L453.4,285.6 L455.2,284.7 L456.9,283.9 L458.6,283.0 L460.4,282.1 L462.1,281.2 L463.8,280.4 L465.5,279.5 L467.3,278.7 L469.0,277.9 L470.7,277.1 L472.4,276.3 L474.1,275.5 L475.8,274.7 L477.5,273.9 L479.1,273.2 L480.8,272.4 L482.4,271.7 L484.0,271.0 L485.6,270.3 L487.2,269.6 L488.8,269.0 L490.3,268.3 L491.8,267.7 L493.3,267.1 L494.8,266.5 L496.3,265.9 L497.7,265.4 L499.1,264.9 L500.5,264.3 L501.8,263.8 L503.1,263.4 L504.4,262.9 L505.7,262.5 L506.9,262.1 L508.1,261.7 L509.3,261.3 L510.4,261.0 L511.5,260.6 L512.6,260.3 L513.6,260.1 L514.6,259.8 L515.5,259.6 L516.4,259.4 L517.3,259.2 L518.1,259.0 L518.9,258.9 L519.7,258.8 L520.4,258.7 L521.0,258.6 L521.7,258.6 L522.2,258.5 L522.8,258.5 L523.3,258.6 L523.7,258.6 L524.1,258.7 L524.5,258.8 L524.8,258.9 L525.1,259.1 L525.3,259.2 L525.5,259.4 L525.6,259.6 L525.7,259.9 L525.8,260.2 L525.8,260.4 L525.8,260.8 L525.7,261.1 L525.5,261.4 L525.4,261.8 L525.1,262.2 L524.9,262.6 L524.6,263.1 L524.2,263.5 L523.8,264.0 L523.4,264.5 L522.9,265.0 L522.3,265.6 L521.8,266.1 L521.2,266.7 L520.5,267.3 L519.8,267.9 L519.1,268.6 L518.3,269.2 L517.5,269.9 L516.6,270.6 L515.7,271.3 L514.8,272.0 L513.8,272.7 L512.8,273.5 L511.7,274.2 L510.6,275.0 L509.5,275.8 L508.3,276.6 L507.2,277.4 L505.9,278.2 L504.7,279.0 L503.4,279.8 L502.1,280.7 L500.7,281.6 L499.4,282.4 L498.0,283.3 L496.6,284.2 L495.1,285.1 L493.6,285.9 L492.1,286.8 L490.6,287.7 L489.1,288.6 L487.5,289.6 L485.9,290.5 L484.3,291.4 L482.7,292.3 L481.1,293.2 L479.4,294.1 L477.8,295.0 L476.1,295.9 L474.4,296.9 L472.7,297.8 L471.0,298.7 L469.3,299.6 L467.6,300.5 L465.9,301.4 L464.2,302.3 L462.4,303.1 L460.7,304.0 L459.0,304.9 L457.2,305.8 L455.5,306.6 L453.8,307.5 L452.1,308.3 L450.4,309.1 L448.6,309.9 L446.9,310.7 L445.2,311.5 L443.6,312.3 L441.9,313.1 L440.2,313.8 L438.6,314.5 L436.9,315.3 L435.3,316.0 L433.7,316.7 L432.1,317.4 L430.6,318.0 L429.0,318.7 L427.5,319.3 L426.0,319.9 L424.5,320.5 L423.1,321.1 L421.6,321.6 L420.2,322.1 L418.9,322.7 L417.5,323.2 L416.2,323.6 L414.9,324.1 L413.6,324.5 L412.4,324.9 L411.2,325.3 L410.1,325.7 L408.9,326.0 L407.8,326.4 L406.8,326.7 L405.8,326.9 L404.8,327.2 L403.8,327.4 L402.9,327.6 L402.1,327.8 L401.2,328.0 L400.4,328.1 L399.7,328.2 L399.0,328.3 L398.3,328.4 L397.7,328.4 L397.1,328.5 L396.6,328.5 L396.1,328.4 L395.6,328.4 L395.2,328.3 L394.8,328.2 L394.5,328.1 L394.2,327.9 L394.0,327.8 L393.8,327.6Z"/>
<path d="M407.6,318.1 L407.5,317.9 L407.5,317.7 L407.5,317.5 L407.5,317.2 L407.6,317.0 L407.7,316.7 L407.8,316.4 L408.0,316.1 L408.2,315.8 L408.5,315.4 L408.8,315.1 L409.1,314.7 L409.4,314.3 L409.8,313.9 L410.2,313.5 L410.7,313.0 L411.2,312.6 L411.7,312.1 L412.2,311.6 L412.8,311.2 L413.4,310.7 L414.1,310.1 L414.8,309.6 L415.5,309.1 L416.2,308.5 L417.0,308.0 L417.8,307.4 L418.6,306.8 L419.5,306.2 L420.4,305.6 L421.3,305.0 L422.2,304.4 L423.2,303.8 L424.2,303.2 L425.2,302.5 L426.2,301.9 L427.3,301.2 L428.4,300.6 L429.5,299.9 L430.6,299.2 L431.7,298.6 L432.9,297.9 L434.1,297.2 L435.3,296.5 L436.5,295.9 L437.7,295.2 L439.0,294.5 L440.2,293.8 L441.5,293.1 L442.8,292.4 L444.1,291.7 L445.4,291.0 L446.7,290.3 L448.1,289.7 L449.4,289.0 L450.7,288.3 L452.1,287.6 L453.4,286.9 L454.8,286.3 L456.1,285.6 L457.5,284.9 L458.9,284.3 L460.2,283.6 L461.6,283.0 L463.0,282.3 L464.3,281.7 L465.7,281.1 L467.0,280.5 L468.4,279.9 L469.7,279.3 L471.1,278.7 L472.4,278.1 L473.7,277.5 L475.0,277.0 L476.3,276.4 L477.6,275.9 L478.9,275.4 L480.1,274.8 L481.4,274.3 L482.6,273.9 L483.8,273.4 L485.0,272.9 L486.2,272.5 L487.4,272.0 L488.5,271.6 L489.7,271.2 L490.8,270.8 L491.9,270.4 L492.9,270.1 L494.0,269.7 L495.0,269.4 L496.0,269.1 L496.9,268.8 L497.9,268.5 L498.8,268.2 L499.7,268.0 L500.5,267.8 L501.4,267.5 L502.2,267.4 L502.9,267.2 L503.7,267.0 L504.4,266.9 L505.1,266.7 L505.7,266.6 L506.4,266.5 L507.0,266.5 L507.5,266.4 L508.0,266.4 L508.5,266.4 L509.0,266.4 L509.4,266.4 L509.8,266.4 L510.2,266.5 L510.5,266.5 L510.8,266.6 L511.0,266.7 L511.2,266.9 L511.4,267.0 L511.6,267.2 L511.7,267.3 L511.7,267.5 L511.8,267.7 L511.8,268.0 L511.7,268.2 L511.7,268.5 L511.6,268.8 L511.4,269.1 L511.2,269.4 L511.0,269.7 L510.8,270.1 L510.5,270.4 L510.2,270.8 L509.8,271.2 L509.5,271.6 L509.0,272.0 L508.6,272.4 L508.1,272.9 L507.6,273.3 L507.0,273.8 L506.4,274.3 L505.8,274.8 L505.2,275.3 L504.5,275.8 L503.8,276.4 L503.0,276.9 L502.3,277.5 L501.5,278.1 L500.6,278.6 L499.8,279.2 L498.9,279.8 L498.0,280.4 L497.0,281.0 L496.1,281.7 L495.1,282.3 L494.1,282.9 L493.0,283.6 L492.0,284.2 L490.9,284.9 L489.8,285.6 L488.7,286.2 L487.5,286.9 L486.4,287.6 L485.2,288.2 L484.0,288.9 L482.8,289.6 L481.5,290.3 L480.3,291.0 L479.0,291.7 L477.7,292.4 L476.5,293.1 L475.2,293.7 L473.9,294.4 L472.5,295.1 L471.2,295.8 L469.9,296.5 L468.5,297.2 L467.2,297.9 L465.8,298.5 L464.5,299.2 L463.1,299.9 L461.8,300.5 L460.4,301.2 L459.0,301.8 L457.7,302.5 L456.3,303.1 L454.9,303.8 L453.6,304.4 L452.2,305.0 L450.9,305.6 L449.5,306.2 L448.2,306.8 L446.9,307.4 L445.5,307.9 L444.2,308.5 L442.9,309.0 L441.7,309.6 L440.4,310.1 L439.1,310.6 L437.9,311.1 L436.6,311.6 L435.4,312.1 L434.2,312.6 L433.0,313.0 L431.9,313.4 L430.7,313.9 L429.6,314.3 L428.5,314.7 L427.4,315.0 L426.3,315.4 L425.3,315.7 L424.3,316.1 L423.3,316.4 L422.3,316.7 L421.4,317.0 L420.5,317.2 L419.6,317.5 L418.7,317.7 L417.9,317.9 L417.1,318.1 L416.3,318.3 L415.6,318.5 L414.9,318.6 L414.2,318.7 L413.5,318.8 L412.9,318.9 L412.3,319.0 L411.7,319.1 L411.2,319.1 L410.7,319.1 L410.3,319.1 L409.9,319.1 L409.5,319.1 L409.1,319.0 L408.8,318.9 L408.5,318.8 L408.3,318.7 L408.0,318.6 L407.9,318.5 L407.7,318.3Z"/>
<path d="M419.0,312.5 L419.0,312.4 L419.0,312.2 L419.0,311.9 L419.0,311.7 L419.1,311.4 L419.3,311.1 L419.4,310.9 L419.6,310.5 L419.9,310.2 L420.2,309.9 L420.5,309.5 L420.9,309.1 L421.3,308.7 L421.8,308.3 L422.2,307.9 L422.8,307.4 L423.3,306.9 L423.9,306.5 L424.5,306.0 L425.2,305.5 L425.9,305.0 L426.6,304.4 L427.4,303.9 L428.2,303.4 L429.0,302.8 L429.9,302.2 L430.8,301.7 L431.7,301.1 L432.6,300.5 L433.6,299.9 L434.6,299.3 L435.6,298.6 L436.6,298.0 L437.7,297.4 L438.8,296.8 L439.9,296.1 L441.0,295.5 L442.2,294.8 L443.3,294.2 L444.5,293.6 L445.7,292.9 L446.9,292.3 L448.1,291.6 L449.4,291.0 L450.6,290.3 L451.8,289.7 L453.1,289.1 L454.4,288.4 L455.6,287.8 L456.9,287.2 L458.2,286.5 L459.5,285.9 L460.7,285.3 L462.0,284.7 L463.3,284.1 L464.6,283.6 L465.8,283.0 L467.1,282.4 L468.3,281.9 L469.6,281.3 L470.8,280.8 L472.0,280.3 L473.3,279.8 L474.5,279.3 L475.6,278.8 L476.8,278.3 L478.0,277.9 L479.1,277.4 L480.2,277.0 L481.3,276.6 L482.4,276.2 L483.4,275.8 L484.4,275.5 L485.4,275.1 L486.4,274.8 L487.4,274.5 L488.3,274.2 L489.2,273.9 L490.0,273.7 L490.9,273.4 L491.7,273.2 L492.4,273.0 L493.2,272.9 L493.9,272.7 L494.6,272.6 L495.2,272.4 L495.8,272.3 L496.4,272.3 L496.9,272.2 L497.4,272.2 L497.8,272.2 L498.3,272.2 L498.6,272.2 L499.0,272.2 L499.3,272.3 L499.6,272.4 L499.8,272.5 L500.0,272.6 L500.1,272.8 L500.2,272.9 L500.3,273.1 L500.3,273.3 L500.3,273.5 L500.2,273.8 L500.1,274.0 L500.0,274.3 L499.8,274.6 L499.6,274.9 L499.4,275.3 L499.1,275.6 L498.7,276.0 L498.4,276.4 L498.0,276.8 L497.5,277.2 L497.0,277.6 L496.5,278.1 L495.9,278.5 L495.4,279.0 L494.7,279.5 L494.1,280.0 L493.4,280.5 L492.6,281.0 L491.9,281.6 L491.1,282.1 L490.2,282.7 L489.4,283.2 L488.5,283.8 L487.6,284.4 L486.7,285.0 L485.7,285.6 L484.7,286.2 L483.7,286.8 L482.6,287.4 L481.6,288.1 L480.5,288.7 L479.4,289.3 L478.2,290.0 L477.1,290.6 L475.9,291.3 L474.8,291.9 L473.6,292.6 L472.4,293.2 L471.1,293.8 L469.9,294.5 L468.7,295.1 L467.4,295.8 L466.2,296.4 L464.9,297.0 L463.6,297.7 L462.3,298.3 L461.1,298.9 L459.8,299.5 L458.5,300.1 L457.2,300.7 L456.0,301.3 L454.7,301.9 L453.4,302.5 L452.2,303.1 L450.9,303.6 L449.7,304.2 L448.4,304.7 L447.2,305.2 L446.0,305.7 L444.8,306.2 L443.6,306.7 L442.5,307.2 L441.3,307.6 L440.2,308.0 L439.1,308.5 L438.0,308.9 L436.9,309.3 L435.9,309.7 L434.8,310.0 L433.8,310.4 L432.9,310.7 L431.9,311.0 L431.0,311.3 L430.1,311.5 L429.2,311.8 L428.4,312.0 L427.6,312.2 L426.8,312.4 L426.1,312.6 L425.4,312.8 L424.7,312.9 L424.1,313.0 L423.5,313.1 L422.9,313.2 L422.4,313.3 L421.9,313.3 L421.4,313.3 L421.0,313.3 L420.6,313.3 L420.3,313.2 L420.0,313.2 L419.7,313.1 L419.5,313.0 L419.3,312.9 L419.2,312.7Z"/>
<path d="M427.4,308.5 L427.3,308.3 L427.3,308.2 L427.3,308.0 L427.4,307.8 L427.4,307.6 L427.5,307.4 L427.7,307.1 L427.8,306.9 L428.1,306.6 L428.3,306.3 L428.5,306.0 L428.8,305.7 L429.2,305.4 L429.5,305.1 L429.9,304.8 L430.3,304.4 L430.8,304.0 L431.2,303.7 L431.7,303.3 L432.3,302.9 L432.8,302.5 L433.4,302.0 L434.0,301.6 L434.6,301.2 L435.3,300.7 L436.0,300.3 L436.7,299.8 L437.4,299.4 L438.2,298.9 L438.9,298.4 L439.7,297.9 L440.5,297.4 L441.4,296.9 L442.2,296.4 L443.1,295.9 L443.9,295.4 L444.8,294.9 L445.7,294.4 L446.7,293.9 L447.6,293.4 L448.6,292.9 L449.5,292.4 L450.5,291.8 L451.5,291.3 L452.5,290.8 L453.4,290.3 L454.4,289.8 L455.4,289.3 L456.5,288.8 L457.5,288.3 L458.5,287.8 L459.5,287.3 L460.5,286.8 L461.5,286.4 L462.5,285.9 L463.6,285.4 L464.6,285.0 L465.6,284.5 L466.6,284.1 L467.5,283.7 L468.5,283.2 L469.5,282.8 L470.5,282.4 L471.4,282.0 L472.4,281.6 L473.3,281.3 L474.2,280.9 L475.1,280.6 L476.0,280.2 L476.8,279.9 L477.7,279.6 L478.5,279.3 L479.3,279.0 L480.1,278.7 L480.9,278.5 L481.7,278.2 L482.4,278.0 L483.1,277.8 L483.8,277.6 L484.5,277.4 L485.1,277.2 L485.7,277.1 L486.3,276.9 L486.9,276.8 L487.4,276.7 L487.9,276.6 L488.4,276.5 L488.8,276.5 L489.3,276.4 L489.6,276.4 L490.0,276.4 L490.3,276.4 L490.6,276.4 L490.9,276.4 L491.2,276.5 L491.4,276.6 L491.5,276.6 L491.7,276.7 L491.8,276.9 L491.9,277.0 L491.9,277.1 L492.0,277.3 L491.9,277.5 L491.9,277.7 L491.8,277.9 L491.7,278.1 L491.6,278.3 L491.4,278.6 L491.2,278.9 L491.0,279.1 L490.7,279.4 L490.4,279.7 L490.1,280.0 L489.7,280.4 L489.4,280.7 L488.9,281.1 L488.5,281.4 L488.0,281.8 L487.5,282.2 L487.0,282.6 L486.4,283.0 L485.9,283.4 L485.3,283.9 L484.6,284.3 L484.0,284.7 L483.3,285.2 L482.6,285.6 L481.9,286.1 L481.1,286.6 L480.3,287.1 L479.5,287.5 L478.7,288.0 L477.9,288.5 L477.1,289.0 L476.2,289.5 L475.3,290.0 L474.4,290.5 L473.5,291.1 L472.6,291.6 L471.7,292.1 L470.7,292.6 L469.7,293.1 L468.8,293.6 L467.8,294.1 L466.8,294.6 L465.8,295.2 L464.8,295.7 L463.8,296.2 L462.8,296.7 L461.8,297.2 L460.8,297.7 L459.8,298.1 L458.7,298.6 L457.7,299.1 L456.7,299.6 L455.7,300.0 L454.7,300.5 L453.7,300.9 L452.7,301.4 L451.7,301.8 L450.7,302.2 L449.8,302.6 L448.8,303.0 L447.9,303.4 L446.9,303.8 L446.0,304.2 L445.1,304.6 L444.2,304.9 L443.3,305.2 L442.4,305.6 L441.6,305.9 L440.7,306.2 L439.9,306.5 L439.1,306.7 L438.3,307.0 L437.6,307.2 L436.9,307.5 L436.2,307.7 L435.5,307.9 L434.8,308.1 L434.2,308.2 L433.6,308.4 L433.0,308.5 L432.4,308.7 L431.9,308.8 L431.4,308.9 L430.9,308.9 L430.4,309.0 L430.0,309.0 L429.6,309.1 L429.3,309.1 L428.9,309.1 L428.6,309.1 L428.3,309.0 L428.1,309.0 L427.9,308.9 L427.7,308.8 L427.6,308.7 L427.5,308.6Z"/>
<path d="M434.1,305.2 L434.1,305.1 L434.1,304.9 L434.1,304.8 L434.1,304.6 L434.2,304.5 L434.3,304.3 L434.4,304.1 L434.5,303.9 L434.7,303.7 L434.9,303.5 L435.1,303.3 L435.3,303.0 L435.6,302.8 L435.8,302.5 L436.1,302.2 L436.5,302.0 L436.8,301.7 L437.2,301.4 L437.6,301.1 L438.0,300.7 L438.4,300.4 L438.9,300.1 L439.4,299.8 L439.9,299.4 L440.4,299.1 L440.9,298.7 L441.5,298.3 L442.1,298.0 L442.7,297.6 L443.3,297.2 L443.9,296.8 L444.5,296.4 L445.2,296.1 L445.9,295.7 L446.5,295.3 L447.2,294.9 L447.9,294.5 L448.7,294.1 L449.4,293.7 L450.1,293.3 L450.9,292.8 L451.6,292.4 L452.4,292.0 L453.2,291.6 L454.0,291.2 L454.7,290.8 L455.5,290.4 L456.3,290.0 L457.1,289.6 L457.9,289.2 L458.7,288.8 L459.5,288.5 L460.3,288.1 L461.1,287.7 L461.9,287.3 L462.7,287.0 L463.5,286.6 L464.3,286.3 L465.1,285.9 L465.9,285.6 L466.7,285.2 L467.4,284.9 L468.2,284.6 L468.9,284.3 L469.7,284.0 L470.4,283.7 L471.1,283.4 L471.9,283.1 L472.5,282.8 L473.2,282.6 L473.9,282.3 L474.6,282.1 L475.2,281.9 L475.8,281.7 L476.5,281.5 L477.0,281.3 L477.6,281.1 L478.2,280.9 L478.7,280.8 L479.3,280.6 L479.8,280.5 L480.2,280.4 L480.7,280.2 L481.1,280.1 L481.6,280.1 L482.0,280.0 L482.4,279.9 L482.7,279.9 L483.0,279.8 L483.4,279.8 L483.6,279.8 L483.9,279.8 L484.1,279.8 L484.4,279.9 L484.5,279.9 L484.7,280.0 L484.9,280.0 L485.0,280.1 L485.1,280.2 L485.1,280.3 L485.2,280.4 L485.2,280.5 L485.2,280.7 L485.1,280.8 L485.1,281.0 L485.0,281.2 L484.9,281.4 L484.7,281.6 L484.6,281.8 L484.4,282.0 L484.2,282.2 L484.0,282.5 L483.7,282.7 L483.4,283.0 L483.1,283.2 L482.8,283.5 L482.4,283.8 L482.1,284.1 L481.7,284.4 L481.3,284.7 L480.8,285.0 L480.4,285.4 L479.9,285.7 L479.4,286.1 L478.9,286.4 L478.3,286.8 L477.8,287.1 L477.2,287.5 L476.6,287.9 L476.0,288.3 L475.4,288.6 L474.7,289.0 L474.1,289.4 L473.4,289.8 L472.7,290.2 L472.0,290.6 L471.3,291.0 L470.6,291.4 L469.9,291.8 L469.1,292.2 L468.4,292.6 L467.6,293.0 L466.9,293.4 L466.1,293.8 L465.3,294.2 L464.5,294.6 L463.7,295.0 L462.9,295.4 L462.1,295.8 L461.3,296.2 L460.5,296.6 L459.7,297.0 L458.9,297.4 L458.1,297.8 L457.3,298.1 L456.5,298.5 L455.7,298.9 L454.9,299.2 L454.2,299.6 L453.4,299.9 L452.6,300.2 L451.8,300.6 L451.1,300.9 L450.3,301.2 L449.6,301.5 L448.8,301.8 L448.1,302.1 L447.4,302.4 L446.7,302.6 L446.0,302.9 L445.4,303.1 L444.7,303.4 L444.1,303.6 L443.4,303.8 L442.8,304.0 L442.2,304.2 L441.6,304.4 L441.1,304.6 L440.5,304.7 L440.0,304.9 L439.5,305.0 L439.0,305.1 L438.6,305.2 L438.1,305.3 L437.7,305.4 L437.3,305.5 L436.9,305.5 L436.6,305.6 L436.2,305.6 L435.9,305.7 L435.6,305.7 L435.4,305.7 L435.1,305.6 L434.9,305.6 L434.7,305.6 L434.6,305.5 L434.4,305.5 L434.3,305.4 L434.2,305.3Z"/>
<path d="M439.9,302.4 L439.8,302.3 L439.8,302.2 L439.8,302.1 L439.8,302.0 L439.9,301.8 L440.0,301.7 L440.0,301.6 L440.2,301.4 L440.3,301.2 L440.4,301.1 L440.6,300.9 L440.8,300.7 L441.0,300.5 L441.2,300.3 L441.4,300.1 L441.7,299.9 L441.9,299.7 L442.2,299.4 L442.5,299.2 L442.9,298.9 L443.2,298.7 L443.6,298.4 L443.9,298.2 L444.3,297.9 L444.7,297.6 L445.1,297.4 L445.6,297.1 L446.0,296.8 L446.5,296.5 L446.9,296.2 L447.4,295.9 L447.9,295.6 L448.4,295.3 L448.9,295.0 L449.5,294.7 L450.0,294.4 L450.6,294.1 L451.1,293.8 L451.7,293.5 L452.3,293.1 L452.8,292.8 L453.4,292.5 L454.0,292.2 L454.6,291.9 L455.2,291.6 L455.8,291.3 L456.5,290.9 L457.1,290.6 L457.7,290.3 L458.3,290.0 L458.9,289.7 L459.6,289.4 L460.2,289.1 L460.8,288.8 L461.4,288.5 L462.0,288.3 L462.7,288.0 L463.3,287.7 L463.9,287.4 L464.5,287.2 L465.1,286.9 L465.7,286.7 L466.3,286.4 L466.9,286.2 L467.4,285.9 L468.0,285.7 L468.6,285.5 L469.1,285.3 L469.6,285.1 L470.2,284.9 L470.7,284.7 L471.2,284.5 L471.7,284.3 L472.2,284.2 L472.7,284.0 L473.1,283.8 L473.6,283.7 L474.0,283.6 L474.4,283.4 L474.8,283.3 L475.2,283.2 L475.6,283.1 L476.0,283.0 L476.3,283.0 L476.6,282.9 L477.0,282.8 L477.3,282.8 L477.5,282.8 L477.8,282.7 L478.0,282.7 L478.2,282.7 L478.5,282.7 L478.6,282.7 L478.8,282.7 L479.0,282.8 L479.1,282.8 L479.2,282.9 L479.3,282.9 L479.4,283.0 L479.4,283.1 L479.4,283.2 L479.4,283.3 L479.4,283.4 L479.4,283.5 L479.4,283.6 L479.3,283.8 L479.2,283.9 L479.1,284.1 L479.0,284.2 L478.8,284.4 L478.7,284.6 L478.5,284.8 L478.3,285.0 L478.1,285.2 L477.8,285.4 L477.6,285.6 L477.3,285.8 L477.0,286.0 L476.7,286.3 L476.4,286.5 L476.1,286.8 L475.7,287.0 L475.3,287.3 L475.0,287.6 L474.5,287.8 L474.1,288.1 L473.7,288.4 L473.3,288.7 L472.8,289.0 L472.3,289.3 L471.8,289.6 L471.3,289.9 L470.8,290.2 L470.3,290.5 L469.8,290.8 L469.2,291.1 L468.7,291.4 L468.1,291.7 L467.6,292.0 L467.0,292.3 L466.4,292.6 L465.8,293.0 L465.2,293.3 L464.6,293.6 L464.0,293.9 L463.4,294.2 L462.8,294.5 L462.2,294.8 L461.6,295.1 L461.0,295.4 L460.3,295.7 L459.7,296.0 L459.1,296.3 L458.5,296.6 L457.8,296.9 L457.2,297.2 L456.6,297.5 L456.0,297.8 L455.4,298.0 L454.8,298.3 L454.2,298.6 L453.6,298.8 L453.0,299.1 L452.4,299.3 L451.8,299.5 L451.3,299.8 L450.7,300.0 L450.2,300.2 L449.6,300.4 L449.1,300.6 L448.6,300.8 L448.0,301.0 L447.5,301.2 L447.1,301.3 L446.6,301.5 L446.1,301.6 L445.7,301.8 L445.2,301.9 L444.8,302.0 L444.4,302.1 L444.0,302.2 L443.6,302.3 L443.3,302.4 L442.9,302.5 L442.6,302.6 L442.3,302.6 L442.0,302.7 L441.7,302.7 L441.5,302.7 L441.2,302.8 L441.0,302.8 L440.8,302.8 L440.6,302.7 L440.5,302.7 L440.3,302.7 L440.2,302.6 L440.1,302.6 L440.0,302.5 L439.9,302.5Z"/>
<path d="M445.1,299.8 L445.0,299.8 L445.0,299.7 L445.0,299.6 L445.1,299.5 L445.1,299.4 L445.1,299.3 L445.2,299.2 L445.3,299.1 L445.4,299.0 L445.5,298.9 L445.6,298.7 L445.7,298.6 L445.9,298.5 L446.0,298.3 L446.2,298.2 L446.4,298.0 L446.6,297.8 L446.8,297.7 L447.0,297.5 L447.3,297.3 L447.5,297.1 L447.8,296.9 L448.1,296.7 L448.3,296.5 L448.6,296.3 L448.9,296.1 L449.3,295.9 L449.6,295.7 L449.9,295.5 L450.3,295.3 L450.6,295.1 L451.0,294.9 L451.4,294.6 L451.8,294.4 L452.1,294.2 L452.5,294.0 L453.0,293.7 L453.4,293.5 L453.8,293.3 L454.2,293.0 L454.6,292.8 L455.1,292.6 L455.5,292.3 L455.9,292.1 L456.4,291.9 L456.8,291.6 L457.3,291.4 L457.7,291.2 L458.2,291.0 L458.7,290.7 L459.1,290.5 L459.6,290.3 L460.0,290.1 L460.5,289.9 L460.9,289.6 L461.4,289.4 L461.9,289.2 L462.3,289.0 L462.8,288.8 L463.2,288.6 L463.6,288.4 L464.1,288.3 L464.5,288.1 L465.0,287.9 L465.4,287.7 L465.8,287.6 L466.2,287.4 L466.6,287.2 L467.0,287.1 L467.4,286.9 L467.8,286.8 L468.2,286.7 L468.5,286.5 L468.9,286.4 L469.2,286.3 L469.6,286.2 L469.9,286.1 L470.2,286.0 L470.5,285.9 L470.8,285.8 L471.1,285.7 L471.4,285.7 L471.7,285.6 L471.9,285.5 L472.2,285.5 L472.4,285.4 L472.6,285.4 L472.8,285.4 L473.0,285.4 L473.2,285.4 L473.3,285.3 L473.5,285.4 L473.6,285.4 L473.8,285.4 L473.9,285.4 L474.0,285.4 L474.0,285.5 L474.1,285.5 L474.2,285.6 L474.2,285.6 L474.2,285.7 L474.2,285.8 L474.2,285.8 L474.2,285.9 L474.2,286.0 L474.1,286.1 L474.1,286.2 L474.0,286.3 L473.9,286.5 L473.8,286.6 L473.7,286.7 L473.5,286.9 L473.4,287.0 L473.2,287.2 L473.1,287.3 L472.9,287.5 L472.7,287.6 L472.5,287.8 L472.2,288.0 L472.0,288.2 L471.7,288.3 L471.5,288.5 L471.2,288.7 L470.9,288.9 L470.6,289.1 L470.3,289.3 L470.0,289.5 L469.7,289.7 L469.3,290.0 L469.0,290.2 L468.6,290.4 L468.3,290.6 L467.9,290.8 L467.5,291.1 L467.1,291.3 L466.7,291.5 L466.3,291.7 L465.9,292.0 L465.5,292.2 L465.1,292.4 L464.6,292.7 L464.2,292.9 L463.8,293.1 L463.3,293.4 L462.9,293.6 L462.4,293.8 L462.0,294.1 L461.5,294.3 L461.1,294.5 L460.6,294.7 L460.1,295.0 L459.7,295.2 L459.2,295.4 L458.8,295.6 L458.3,295.8 L457.9,296.0 L457.4,296.2 L457.0,296.4 L456.5,296.6 L456.1,296.8 L455.6,297.0 L455.2,297.2 L454.7,297.4 L454.3,297.6 L453.9,297.7 L453.5,297.9 L453.1,298.1 L452.6,298.2 L452.2,298.4 L451.9,298.5 L451.5,298.7 L451.1,298.8 L450.7,298.9 L450.4,299.1 L450.0,299.2 L449.7,299.3 L449.3,299.4 L449.0,299.5 L448.7,299.6 L448.4,299.7 L448.1,299.7 L447.9,299.8 L447.6,299.9 L447.3,299.9 L447.1,300.0 L446.9,300.0 L446.6,300.1 L446.4,300.1 L446.3,300.1 L446.1,300.1 L445.9,300.1 L445.8,300.1 L445.6,300.1 L445.5,300.1 L445.4,300.1 L445.3,300.0 L445.2,300.0 L445.2,300.0 L445.1,299.9Z"/>
<path d="M449.7,297.6 L449.7,297.5 L449.7,297.5 L449.7,297.4 L449.7,297.4 L449.8,297.3 L449.8,297.2 L449.8,297.1 L449.9,297.1 L450.0,297.0 L450.0,296.9 L450.1,296.8 L450.2,296.7 L450.3,296.6 L450.4,296.5 L450.5,296.4 L450.6,296.3 L450.8,296.2 L450.9,296.1 L451.1,296.0 L451.2,295.8 L451.4,295.7 L451.6,295.6 L451.8,295.5 L452.0,295.3 L452.2,295.2 L452.4,295.0 L452.6,294.9 L452.8,294.8 L453.0,294.6 L453.3,294.5 L453.5,294.3 L453.8,294.2 L454.0,294.0 L454.3,293.9 L454.6,293.7 L454.8,293.6 L455.1,293.4 L455.4,293.2 L455.7,293.1 L455.9,292.9 L456.2,292.8 L456.5,292.6 L456.8,292.5 L457.1,292.3 L457.4,292.1 L457.7,292.0 L458.0,291.8 L458.3,291.7 L458.7,291.5 L459.0,291.4 L459.3,291.2 L459.6,291.1 L459.9,290.9 L460.2,290.8 L460.5,290.6 L460.8,290.5 L461.1,290.4 L461.4,290.2 L461.8,290.1 L462.1,290.0 L462.4,289.8 L462.7,289.7 L462.9,289.6 L463.2,289.5 L463.5,289.3 L463.8,289.2 L464.1,289.1 L464.4,289.0 L464.6,288.9 L464.9,288.8 L465.2,288.7 L465.4,288.6 L465.7,288.5 L465.9,288.4 L466.2,288.4 L466.4,288.3 L466.6,288.2 L466.8,288.2 L467.0,288.1 L467.2,288.0 L467.4,288.0 L467.6,287.9 L467.8,287.9 L468.0,287.9 L468.1,287.8 L468.3,287.8 L468.4,287.8 L468.6,287.7 L468.7,287.7 L468.8,287.7 L468.9,287.7 L469.0,287.7 L469.1,287.7 L469.2,287.7 L469.3,287.8 L469.4,287.8 L469.4,287.8 L469.5,287.8 L469.5,287.9 L469.5,287.9 L469.5,288.0 L469.5,288.0 L469.5,288.1 L469.5,288.1 L469.5,288.2 L469.5,288.2 L469.4,288.3 L469.4,288.4 L469.3,288.5 L469.2,288.6 L469.2,288.7 L469.1,288.7 L469.0,288.8 L468.9,288.9 L468.7,289.1 L468.6,289.2 L468.5,289.3 L468.3,289.4 L468.2,289.5 L468.0,289.6 L467.8,289.8 L467.7,289.9 L467.5,290.0 L467.3,290.1 L467.1,290.3 L466.9,290.4 L466.7,290.6 L466.4,290.7 L466.2,290.8 L466.0,291.0 L465.7,291.1 L465.5,291.3 L465.2,291.4 L465.0,291.6 L464.7,291.8 L464.4,291.9 L464.2,292.1 L463.9,292.2 L463.6,292.4 L463.3,292.5 L463.0,292.7 L462.7,292.8 L462.4,293.0 L462.1,293.2 L461.8,293.3 L461.5,293.5 L461.2,293.6 L460.9,293.8 L460.6,293.9 L460.3,294.1 L460.0,294.2 L459.7,294.4 L459.4,294.5 L459.0,294.7 L458.7,294.8 L458.4,295.0 L458.1,295.1 L457.8,295.2 L457.5,295.4 L457.2,295.5 L456.9,295.6 L456.6,295.8 L456.3,295.9 L456.0,296.0 L455.7,296.1 L455.4,296.2 L455.2,296.4 L454.9,296.5 L454.6,296.6 L454.4,296.7 L454.1,296.8 L453.8,296.9 L453.6,296.9 L453.3,297.0 L453.1,297.1 L452.9,297.2 L452.7,297.3 L452.4,297.3 L452.2,297.4 L452.0,297.4 L451.8,297.5 L451.6,297.5 L451.5,297.6 L451.3,297.6 L451.1,297.6 L451.0,297.7 L450.8,297.7 L450.7,297.7 L450.6,297.7 L450.4,297.7 L450.3,297.7 L450.2,297.7 L450.1,297.7 L450.0,297.7 L450.0,297.7 L449.9,297.7 L449.9,297.7 L449.8,297.6 L449.8,297.6Z"/>
<path d="M454.4,295.3 L454.4,295.3 L454.4,295.2 L454.4,295.2 L454.4,295.2 L454.4,295.1 L454.5,295.1 L454.5,295.1 L454.5,295.0 L454.5,295.0 L454.6,294.9 L454.6,294.9 L454.7,294.8 L454.7,294.8 L454.8,294.7 L454.8,294.7 L454.9,294.6 L455.0,294.6 L455.1,294.5 L455.1,294.4 L455.2,294.4 L455.3,294.3 L455.4,294.2 L455.5,294.2 L455.6,294.1 L455.7,294.0 L455.8,294.0 L455.9,293.9 L456.0,293.8 L456.2,293.7 L456.3,293.6 L456.4,293.6 L456.5,293.5 L456.7,293.4 L456.8,293.3 L457.0,293.3 L457.1,293.2 L457.2,293.1 L457.4,293.0 L457.5,292.9 L457.7,292.8 L457.8,292.8 L458.0,292.7 L458.2,292.6 L458.3,292.5 L458.5,292.4 L458.6,292.3 L458.8,292.3 L459.0,292.2 L459.1,292.1 L459.3,292.0 L459.4,291.9 L459.6,291.9 L459.8,291.8 L459.9,291.7 L460.1,291.6 L460.3,291.6 L460.4,291.5 L460.6,291.4 L460.7,291.3 L460.9,291.3 L461.1,291.2 L461.2,291.1 L461.4,291.1 L461.5,291.0 L461.7,290.9 L461.8,290.9 L462.0,290.8 L462.1,290.8 L462.3,290.7 L462.4,290.7 L462.5,290.6 L462.7,290.6 L462.8,290.5 L462.9,290.5 L463.1,290.4 L463.2,290.4 L463.3,290.4 L463.4,290.3 L463.5,290.3 L463.6,290.3 L463.7,290.2 L463.8,290.2 L463.9,290.2 L464.0,290.2 L464.1,290.1 L464.2,290.1 L464.3,290.1 L464.3,290.1 L464.4,290.1 L464.5,290.1 L464.5,290.1 L464.6,290.1 L464.6,290.1 L464.7,290.1 L464.7,290.1 L464.7,290.1 L464.8,290.1 L464.8,290.2 L464.8,290.2 L464.8,290.2 L464.8,290.2 L464.8,290.2 L464.8,290.3 L464.8,290.3 L464.8,290.3 L464.8,290.4 L464.8,290.4 L464.8,290.5 L464.7,290.5 L464.7,290.5 L464.6,290.6 L464.6,290.6 L464.5,290.7 L464.5,290.7 L464.4,290.8 L464.4,290.9 L464.3,290.9 L464.2,291.0 L464.1,291.0 L464.0,291.1 L464.0,291.2 L463.9,291.2 L463.8,291.3 L463.7,291.4 L463.6,291.4 L463.4,291.5 L463.3,291.6 L463.2,291.7 L463.1,291.7 L463.0,291.8 L462.8,291.9 L462.7,292.0 L462.6,292.1 L462.4,292.1 L462.3,292.2 L462.2,292.3 L462.0,292.4 L461.9,292.5 L461.7,292.5 L461.6,292.6 L461.4,292.7 L461.3,292.8 L461.1,292.9 L460.9,293.0 L460.8,293.0 L460.6,293.1 L460.5,293.2 L460.3,293.3 L460.1,293.4 L460.0,293.4 L459.8,293.5 L459.7,293.6 L459.5,293.7 L459.3,293.8 L459.2,293.8 L459.0,293.9 L458.8,294.0 L458.7,294.1 L458.5,294.1 L458.4,294.2 L458.2,294.3 L458.0,294.3 L457.9,294.4 L457.7,294.5 L457.6,294.5 L457.4,294.6 L457.3,294.6 L457.1,294.7 L457.0,294.8 L456.9,294.8 L456.7,294.9 L456.6,294.9 L456.5,294.9 L456.3,295.0 L456.2,295.0 L456.1,295.1 L456.0,295.1 L455.8,295.1 L455.7,295.2 L455.6,295.2 L455.5,295.2 L455.4,295.3 L455.3,295.3 L455.2,295.3 L455.2,295.3 L455.1,295.3 L455.0,295.3 L454.9,295.4 L454.9,295.4 L454.8,295.4 L454.7,295.4 L454.7,295.4 L454.6,295.4 L454.6,295.4 L454.5,295.4 L454.5,295.3 L454.5,295.3 L454.5,295.3 L454.4,295.3Z"/>
</g>
<g clip-path="url(#c5)" fill="none" stroke="#000" stroke-linecap="round" stroke-width="1.8">
<path d="M485.6,270.8h0M488.8,269.9h0M492.6,269.9h0M496.4,270.8h0M499.6,270.1h0M502.8,266.9h0M506.0,266.3h0M509.8,265.7h0M511.7,266.6h0M506.6,268.9h0M506.6,271.4h0M506.6,273.7h0M504.7,275.9h0M502.8,277.1h0M500.2,278.0h0M497.7,278.8h0M499.6,279.1h0M492.6,278.4h0M490.0,278.8h0M492.6,274.6h0M485.6,274.6h0M483.0,278.4h0M485.6,280.1h0M483.7,281.6h0M479.8,279.7h0M477.9,283.5h0M498.6,278.4h0M501.1,277.5h0M488.1,272.7h0M495.1,272.9h0M418.0,308.3h0M441.3,298.0h0M424.0,306.4h0M439.1,297.5h0M426.7,305.8h0M429.1,303.4h0M432.9,303.1h0M422.7,304.7h0M443.7,295.5h0M443.2,297.1h0M435.0,299.1h0M432.4,300.5h0M424.5,305.4h0M438.2,297.9h0M431.0,300.9h0M433.6,300.9h0M420.5,305.9h0M432.4,301.6h0M438.5,299.1h0M420.5,308.1h0M440.1,296.7h0M422.7,307.9h0M441.2,298.9h0M422.1,308.7h0M435.5,298.8h0M423.9,306.5h0M435.4,298.9h0M446.4,294.7h0M424.4,307.1h0M434.5,302.5h0M435.2,300.7h0M426.1,304.6h0M426.7,305.9h0M442.5,296.4h0M446.5,294.0h0M429.2,303.4h0M431.2,303.8h0M436.8,298.3h0M419.3,308.4h0M418.7,307.1h0M445.3,297.5h0M425.4,306.0h0M419.4,309.1h0M443.1,298.1h0M425.9,303.9h0M436.6,300.7h0M442.1,298.2h0M424.2,306.1h0M425.3,303.7h0M442.3,295.3h0M428.0,304.1h0M417.0,309.9h0M430.0,304.0h0M429.4,303.6h0M418.5,310.3h0M420.9,308.1h0M449.7,294.5h0M427.8,305.2h0M439.2,299.4h0M420.2,309.4h0M426.5,303.9h0M431.4,300.7h0M420.9,307.9h0M427.7,302.4h0M422.5,307.5h0M442.8,298.7h0M447.2,295.7h0M426.5,305.9h0M438.6,299.5h0M435.5,302.4h0M424.9,307.0h0M446.6,295.1h0M422.5,305.2h0M446.6,294.0h0M440.5,298.9h0M433.2,300.3h0M423.9,304.2h0M419.1,309.9h0M447.1,294.8h0M430.5,304.2h0M427.0,304.4h0M442.7,298.4h0M421.9,307.0h0M417.4,308.8h0M429.0,301.9h0M455.8,289.4h0M442.4,298.8h0M460.6,288.1h0M457.7,290.1h0M456.7,292.7h0M446.0,297.3h0M473.5,281.5h0M462.1,286.2h0M452.0,290.0h0M458.7,288.1h0M459.4,291.6h0M463.2,286.6h0M473.8,284.7h0M449.6,294.9h0M478.2,282.6h0M466.0,288.1h0M453.5,289.1h0M465.4,286.6h0M440.0,296.7h0M458.0,289.5h0M445.0,295.9h0M444.3,294.3h0M463.2,289.9h0M453.0,289.9h0M453.3,289.6h0M476.8,280.6h0M465.4,285.5h0M465.0,284.8h0M460.4,289.1h0M463.8,288.8h0M472.0,282.9h0M464.3,285.5h0M476.7,280.8h0M468.8,286.7h0M475.6,281.8h0M472.4,285.7h0M467.0,284.5h0M480.1,277.8h0M456.0,292.1h0M477.9,281.9h0M463.3,288.9h0M442.5,295.2h0M453.3,291.2h0M466.2,286.8h0M479.9,278.1h0M440.8,298.2h0M455.9,292.6h0M467.9,286.0h0M479.7,280.2h0M463.8,285.3h0M478.1,278.9h0M464.6,287.5h0M468.2,286.6h0M446.3,293.9h0M458.4,287.0h0M476.6,280.7h0M477.2,279.5h0M465.7,284.8h0M459.1,287.5h0M476.6,281.1h0M451.0,290.3h0M444.5,296.6h0M457.6,291.6h0M446.3,297.1h0M475.9,281.7h0M449.6,295.5h0M481.4,281.1h0M468.9,286.4h0M470.9,283.7h0M442.8,293.9h0M470.9,283.5h0M463.3,289.2h0M477.1,280.5h0M439.3,295.4h0M474.0,285.0h0M457.3,289.4h0M456.0,291.9h0M468.7,282.5h0M473.5,284.0h0M470.4,283.2h0M459.4,287.2h0M481.3,280.8h0M453.5,291.5h0M454.7,291.7h0M466.7,284.4h0M441.9,294.2h0M461.4,286.3h0M447.5,292.6h0M453.2,289.9h0M479.8,279.4h0M441.6,297.9h0M470.1,283.0h0M478.5,280.1h0M474.5,280.1h0M449.9,292.4h0M477.9,282.8h0M459.5,289.5h0M465.5,287.6h0M442.9,294.4h0M441.3,296.6h0M473.3,282.2h0M470.3,282.4h0M446.3,292.9h0M475.7,284.0h0M477.3,278.5h0M467.1,283.0h0M447.7,293.4h0M471.9,284.6h0M448.1,295.1h0M476.3,279.0h0M417.8,308.8h0M425.4,305.8h0M425.6,305.5h0M416.8,309.5h0M417.9,309.1h0M418.4,308.9h0M423.1,306.1h0M416.9,309.8h0M423.6,306.6h0M416.9,308.9h0M422.0,307.5h0M419.9,307.6h0M425.0,305.7h0M419.9,308.2h0M444.6,293.8h0M445.2,295.4h0M446.3,291.6h0M444.4,291.5h0M445.2,291.9h0M445.3,291.0h0M445.3,290.1h0M445.2,295.1h0M445.1,294.2h0M446.1,294.9h0M446.4,290.2h0M445.3,292.2h0M445.4,290.8h0M445.5,294.5h0M445.6,292.1h0M445.3,290.7h0M465.1,295.3h0M465.6,294.0h0M466.0,297.6h0M465.0,296.7h0M466.3,298.9h0M465.6,297.3h0M463.6,295.2h0M465.4,295.9h0M464.2,296.5h0M466.6,298.5h0M463.5,296.9h0M464.6,297.9h0M464.9,296.7h0M465.6,295.7h0M470.9,280.4h0M474.2,283.1h0M472.7,286.8h0M473.6,287.8h0M471.5,288.8h0M473.9,286.9h0M477.2,286.8h0M473.2,286.3h0M473.8,286.5h0M472.9,286.9h0M475.7,282.6h0M474.6,284.7h0M474.6,284.3h0M475.8,286.2h0M472.7,284.2h0M473.5,287.6h0M474.3,289.1h0M473.0,285.0h0M474.3,292.0h0M473.6,288.0h0M475.6,281.2h0M472.9,286.0h0M473.4,287.2h0M474.5,282.2h0M471.8,283.1h0M468.0,279.7h0M449.8,293.3h0M445.9,293.0h0M449.2,293.1h0M452.9,293.8h0M443.9,295.1h0M452.8,296.4h0M451.4,294.1h0M453.6,294.9h0M449.6,294.9h0M447.9,294.5h0M446.3,294.1h0M455.5,292.8h0M448.7,293.6h0M451.2,291.9h0M447.6,293.2h0M456.4,288.7h0M460.3,292.3h0M462.0,291.4h0M455.4,289.1h0M456.0,288.4h0M456.3,291.7h0M457.8,290.5h0M456.1,293.1h0M458.2,292.1h0M466.4,290.1h0M461.1,292.3h0M456.6,291.2h0M456.9,290.1h0M461.1,290.4h0M479.4,278.4h0M481.9,277.6h0M485.4,275.3h0M479.5,279.3h0M483.1,277.0h0M484.4,275.4h0M485.0,274.7h0M480.9,279.4h0M480.9,278.3h0M482.2,278.0h0"/>
</g>
<g fill="none" stroke="#000" stroke-width="0.52">
<rect x="409.2" y="193.5" width="139.40" height="121.70"/>
<path d="M416.20,315.2v3.3M439.22,315.2v3.3M462.24,315.2v3.3M485.26,315.2v3.3M508.28,315.2v3.3M531.30,315.2v3.3M409.2,299.25h-3.4M409.2,280.05h-3.4M409.2,260.85h-3.4M409.2,241.65h-3.4M409.2,222.45h-3.4M409.2,203.25h-3.4"/>
</g>
<g font-family='"Liberation Sans", Arial, Helvetica, sans-serif' font-size="10px" fill="#000" stroke="#000" stroke-width="0.22">
<text x="416.20" y="329.9" text-anchor="middle" font-size="9.6px" stroke-width="0.16">2</text>
<text x="439.22" y="329.9" text-anchor="middle" font-size="9.6px" stroke-width="0.16">4</text>
<text x="462.24" y="329.9" text-anchor="middle" font-size="9.6px" stroke-width="0.16">6</text>
<text x="485.26" y="329.9" text-anchor="middle" font-size="9.6px" stroke-width="0.16">8</text>
<text x="509.48" y="329.9" text-anchor="middle" font-size="9.6px" stroke-width="0.16">10</text>
<text x="532.50" y="329.9" text-anchor="middle" font-size="9.6px" stroke-width="0.16">12</text>
<text x="403.0" y="302.65" text-anchor="end" font-size="9.6px" stroke-width="0.16">0.5</text>
<text x="403.0" y="283.45" text-anchor="end" font-size="9.6px" stroke-width="0.16">1.0</text>
<text x="403.0" y="264.25" text-anchor="end" font-size="9.6px" stroke-width="0.16">1.5</text>
<text x="403.0" y="245.05" text-anchor="end" font-size="9.6px" stroke-width="0.16">2.0</text>
<text x="403.0" y="225.85" text-anchor="end" font-size="9.6px" stroke-width="0.16">2.5</text>
<text x="403.0" y="206.65" text-anchor="end" font-size="9.6px" stroke-width="0.16">3.0</text>
<text x="475.6" y="345.7" text-anchor="middle">Wind Speed [m/s]</text>
<text transform="translate(380.9,255.3) rotate(-90)" text-anchor="middle">Wave Height [m]</text>
<text x="475.6" y="189.1" text-anchor="middle" font-weight="bold" font-size="9.8px" stroke-width="0.1">Linear</text>
</g>
</svg>
</body></html>
